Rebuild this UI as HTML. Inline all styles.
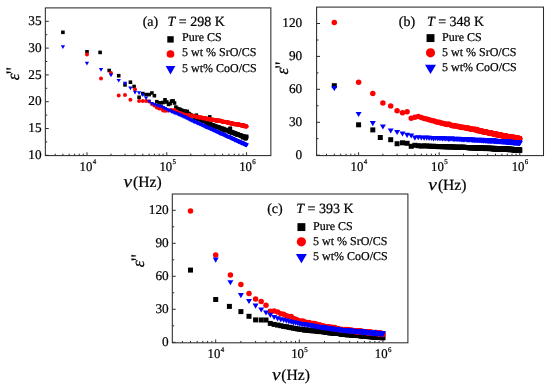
<!DOCTYPE html>
<html><head><meta charset="utf-8"><title>Dielectric loss</title>
<style>html,body{margin:0;padding:0;background:#fff}svg{display:block}text{font-family:"Liberation Serif",serif;fill:#000;stroke:#000;stroke-width:0.22px;text-rendering:geometricPrecision}</style>
</head><body>
<svg width="550" height="387" viewBox="0 0 550 387">
<rect width="550" height="387" fill="#fff"/>
<g fill="#000"><rect x="61.1" y="30.5" width="3.6" height="3.6"/><rect x="85.2" y="50.0" width="3.6" height="3.6"/><rect x="98.3" y="50.6" width="3.6" height="3.6"/><rect x="107.4" y="68.7" width="3.6" height="3.6"/><rect x="116.9" y="73.9" width="3.6" height="3.6"/><rect x="123.2" y="83.1" width="3.6" height="3.6"/><rect x="128.6" y="80.4" width="3.6" height="3.6"/><rect x="132.3" y="84.7" width="3.6" height="3.6"/><rect x="137.3" y="95.5" width="3.6" height="3.6"/><rect x="141.0" y="91.8" width="3.6" height="3.6"/><rect x="144.3" y="92.8" width="3.6" height="3.6"/><rect x="147.3" y="92.8" width="3.6" height="3.6"/><rect x="150.1" y="91.2" width="3.6" height="3.6"/><rect x="152.6" y="93.9" width="3.6" height="3.6"/><rect x="155.0" y="99.9" width="3.6" height="3.6"/><rect x="157.3" y="101.0" width="3.6" height="3.6"/><rect x="159.4" y="101.0" width="3.6" height="3.6"/><rect x="161.3" y="100.7" width="3.6" height="3.6"/><rect x="163.2" y="98.0" width="3.6" height="3.6"/><rect x="165.0" y="100.2" width="3.6" height="3.6"/><rect x="166.7" y="102.6" width="3.6" height="3.6"/><rect x="168.3" y="101.8" width="3.6" height="3.6"/><rect x="169.8" y="99.3" width="3.6" height="3.6"/><rect x="171.3" y="99.1" width="3.6" height="3.6"/><rect x="172.7" y="101.2" width="3.6" height="3.6"/><rect x="174.1" y="105.3" width="3.6" height="3.6"/><rect x="175.4" y="106.7" width="3.6" height="3.6"/><rect x="176.7" y="107.3" width="3.6" height="3.6"/><rect x="177.9" y="107.4" width="3.6" height="3.6"/><rect x="179.1" y="108.2" width="3.6" height="3.6"/><rect x="180.2" y="108.7" width="3.6" height="3.6"/><rect x="181.3" y="109.4" width="3.6" height="3.6"/><rect x="182.4" y="109.5" width="3.6" height="3.6"/><rect x="183.4" y="109.4" width="3.6" height="3.6"/><rect x="184.4" y="110.2" width="3.6" height="3.6"/><rect x="185.4" y="109.6" width="3.6" height="3.6"/><rect x="186.3" y="111.6" width="3.6" height="3.6"/><rect x="187.3" y="111.9" width="3.6" height="3.6"/><rect x="188.2" y="112.8" width="3.6" height="3.6"/><rect x="189.0" y="113.3" width="3.6" height="3.6"/><rect x="189.9" y="113.7" width="3.6" height="3.6"/><rect x="190.7" y="114.9" width="3.6" height="3.6"/><rect x="191.5" y="114.2" width="3.6" height="3.6"/><rect x="192.3" y="114.7" width="3.6" height="3.6"/><rect x="193.1" y="115.1" width="3.6" height="3.6"/><rect x="193.9" y="116.4" width="3.6" height="3.6"/><rect x="194.6" y="113.4" width="3.6" height="3.6"/><rect x="195.4" y="117.1" width="3.6" height="3.6"/><rect x="196.1" y="117.1" width="3.6" height="3.6"/><rect x="196.8" y="117.2" width="3.6" height="3.6"/><rect x="197.5" y="117.2" width="3.6" height="3.6"/><rect x="198.1" y="117.7" width="3.6" height="3.6"/><rect x="198.8" y="117.7" width="3.6" height="3.6"/><rect x="199.4" y="118.5" width="3.6" height="3.6"/><rect x="200.1" y="118.4" width="3.6" height="3.6"/><rect x="200.7" y="118.6" width="3.6" height="3.6"/><rect x="201.3" y="119.4" width="3.6" height="3.6"/><rect x="201.9" y="118.6" width="3.6" height="3.6"/><rect x="202.5" y="119.4" width="3.6" height="3.6"/><rect x="203.1" y="119.4" width="3.6" height="3.6"/><rect x="203.7" y="120.5" width="3.6" height="3.6"/><rect x="204.2" y="120.8" width="3.6" height="3.6"/><rect x="204.8" y="120.9" width="3.6" height="3.6"/><rect x="205.3" y="121.0" width="3.6" height="3.6"/><rect x="205.9" y="120.9" width="3.6" height="3.6"/><rect x="206.4" y="121.3" width="3.6" height="3.6"/><rect x="206.9" y="121.9" width="3.6" height="3.6"/><rect x="207.4" y="122.3" width="3.6" height="3.6"/><rect x="207.9" y="115.1" width="3.6" height="3.6"/><rect x="208.4" y="122.6" width="3.6" height="3.6"/><rect x="208.9" y="122.1" width="3.6" height="3.6"/><rect x="209.4" y="123.2" width="3.6" height="3.6"/><rect x="209.9" y="123.0" width="3.6" height="3.6"/><rect x="210.4" y="123.1" width="3.6" height="3.6"/><rect x="210.8" y="124.1" width="3.6" height="3.6"/><rect x="211.3" y="123.6" width="3.6" height="3.6"/><rect x="211.7" y="123.2" width="3.6" height="3.6"/><rect x="212.2" y="124.8" width="3.6" height="3.6"/><rect x="212.6" y="124.2" width="3.6" height="3.6"/><rect x="213.1" y="124.3" width="3.6" height="3.6"/><rect x="213.5" y="124.8" width="3.6" height="3.6"/><rect x="213.9" y="124.3" width="3.6" height="3.6"/><rect x="214.4" y="124.7" width="3.6" height="3.6"/><rect x="214.8" y="118.9" width="3.6" height="3.6"/><rect x="215.2" y="125.6" width="3.6" height="3.6"/><rect x="215.6" y="124.8" width="3.6" height="3.6"/><rect x="216.0" y="125.0" width="3.6" height="3.6"/><rect x="216.4" y="125.0" width="3.6" height="3.6"/><rect x="216.8" y="125.0" width="3.6" height="3.6"/><rect x="217.2" y="125.6" width="3.6" height="3.6"/><rect x="217.5" y="125.8" width="3.6" height="3.6"/><rect x="217.9" y="126.6" width="3.6" height="3.6"/><rect x="218.3" y="125.9" width="3.6" height="3.6"/><rect x="218.7" y="126.5" width="3.6" height="3.6"/><rect x="219.0" y="126.6" width="3.6" height="3.6"/><rect x="219.4" y="127.1" width="3.6" height="3.6"/><rect x="219.8" y="127.1" width="3.6" height="3.6"/><rect x="220.1" y="127.0" width="3.6" height="3.6"/><rect x="220.5" y="126.4" width="3.6" height="3.6"/><rect x="220.8" y="127.9" width="3.6" height="3.6"/><rect x="221.2" y="127.8" width="3.6" height="3.6"/><rect x="221.5" y="127.2" width="3.6" height="3.6"/><rect x="221.8" y="126.8" width="3.6" height="3.6"/><rect x="222.2" y="127.3" width="3.6" height="3.6"/><rect x="222.5" y="128.5" width="3.6" height="3.6"/><rect x="222.8" y="128.9" width="3.6" height="3.6"/><rect x="223.2" y="127.8" width="3.6" height="3.6"/><rect x="223.5" y="128.3" width="3.6" height="3.6"/><rect x="223.8" y="128.6" width="3.6" height="3.6"/><rect x="224.1" y="127.8" width="3.6" height="3.6"/><rect x="224.4" y="127.9" width="3.6" height="3.6"/><rect x="224.7" y="128.4" width="3.6" height="3.6"/><rect x="225.1" y="128.5" width="3.6" height="3.6"/><rect x="225.4" y="128.5" width="3.6" height="3.6"/><rect x="225.7" y="128.1" width="3.6" height="3.6"/><rect x="226.0" y="128.7" width="3.6" height="3.6"/><rect x="226.3" y="128.8" width="3.6" height="3.6"/><rect x="226.6" y="128.9" width="3.6" height="3.6"/><rect x="226.8" y="129.9" width="3.6" height="3.6"/><rect x="227.1" y="128.8" width="3.6" height="3.6"/><rect x="227.4" y="129.1" width="3.6" height="3.6"/><rect x="227.7" y="129.4" width="3.6" height="3.6"/><rect x="228.0" y="130.5" width="3.6" height="3.6"/><rect x="228.3" y="126.4" width="3.6" height="3.6"/><rect x="228.6" y="127.0" width="3.6" height="3.6"/><rect x="228.8" y="130.3" width="3.6" height="3.6"/><rect x="229.1" y="129.8" width="3.6" height="3.6"/><rect x="229.4" y="131.0" width="3.6" height="3.6"/><rect x="229.6" y="130.4" width="3.6" height="3.6"/><rect x="229.9" y="130.0" width="3.6" height="3.6"/><rect x="230.2" y="131.1" width="3.6" height="3.6"/><rect x="230.4" y="130.0" width="3.6" height="3.6"/><rect x="230.7" y="130.5" width="3.6" height="3.6"/><rect x="231.0" y="130.9" width="3.6" height="3.6"/><rect x="231.2" y="130.8" width="3.6" height="3.6"/><rect x="231.5" y="130.8" width="3.6" height="3.6"/><rect x="231.7" y="131.1" width="3.6" height="3.6"/><rect x="232.0" y="130.8" width="3.6" height="3.6"/><rect x="232.2" y="131.7" width="3.6" height="3.6"/><rect x="232.5" y="131.6" width="3.6" height="3.6"/><rect x="232.7" y="131.1" width="3.6" height="3.6"/><rect x="233.0" y="131.6" width="3.6" height="3.6"/><rect x="233.2" y="132.1" width="3.6" height="3.6"/><rect x="233.5" y="131.4" width="3.6" height="3.6"/><rect x="233.7" y="131.3" width="3.6" height="3.6"/><rect x="233.9" y="132.2" width="3.6" height="3.6"/><rect x="234.2" y="132.7" width="3.6" height="3.6"/><rect x="234.4" y="132.3" width="3.6" height="3.6"/><rect x="234.6" y="132.4" width="3.6" height="3.6"/><rect x="234.9" y="132.5" width="3.6" height="3.6"/><rect x="235.1" y="131.9" width="3.6" height="3.6"/><rect x="235.3" y="133.0" width="3.6" height="3.6"/><rect x="235.6" y="132.1" width="3.6" height="3.6"/><rect x="235.8" y="133.3" width="3.6" height="3.6"/><rect x="236.0" y="133.2" width="3.6" height="3.6"/><rect x="236.2" y="132.7" width="3.6" height="3.6"/><rect x="236.5" y="132.5" width="3.6" height="3.6"/><rect x="236.7" y="132.7" width="3.6" height="3.6"/><rect x="236.9" y="133.1" width="3.6" height="3.6"/><rect x="237.1" y="133.2" width="3.6" height="3.6"/><rect x="237.3" y="133.3" width="3.6" height="3.6"/><rect x="237.5" y="133.2" width="3.6" height="3.6"/><rect x="237.8" y="133.6" width="3.6" height="3.6"/><rect x="238.0" y="133.5" width="3.6" height="3.6"/><rect x="238.2" y="133.5" width="3.6" height="3.6"/><rect x="238.4" y="133.8" width="3.6" height="3.6"/><rect x="238.6" y="133.5" width="3.6" height="3.6"/><rect x="238.8" y="133.7" width="3.6" height="3.6"/><rect x="239.0" y="133.2" width="3.6" height="3.6"/><rect x="239.2" y="134.0" width="3.6" height="3.6"/><rect x="239.4" y="134.4" width="3.6" height="3.6"/><rect x="239.6" y="134.4" width="3.6" height="3.6"/><rect x="239.8" y="134.4" width="3.6" height="3.6"/><rect x="240.0" y="134.0" width="3.6" height="3.6"/><rect x="240.2" y="134.7" width="3.6" height="3.6"/><rect x="240.4" y="134.4" width="3.6" height="3.6"/><rect x="240.6" y="133.9" width="3.6" height="3.6"/><rect x="240.8" y="135.9" width="3.6" height="3.6"/><rect x="241.0" y="135.3" width="3.6" height="3.6"/><rect x="241.2" y="134.8" width="3.6" height="3.6"/><rect x="241.4" y="134.8" width="3.6" height="3.6"/><rect x="241.6" y="134.9" width="3.6" height="3.6"/><rect x="241.8" y="135.3" width="3.6" height="3.6"/><rect x="242.0" y="134.9" width="3.6" height="3.6"/><rect x="242.1" y="135.1" width="3.6" height="3.6"/><rect x="242.3" y="135.6" width="3.6" height="3.6"/><rect x="242.5" y="134.4" width="3.6" height="3.6"/><rect x="242.7" y="135.3" width="3.6" height="3.6"/><rect x="242.9" y="135.8" width="3.6" height="3.6"/><rect x="243.1" y="135.7" width="3.6" height="3.6"/><rect x="243.3" y="135.8" width="3.6" height="3.6"/><rect x="243.4" y="135.8" width="3.6" height="3.6"/><rect x="243.6" y="137.0" width="3.6" height="3.6"/><rect x="243.8" y="136.1" width="3.6" height="3.6"/><rect x="244.0" y="135.6" width="3.6" height="3.6"/><rect x="244.1" y="136.6" width="3.6" height="3.6"/><rect x="244.3" y="136.2" width="3.6" height="3.6"/><rect x="244.5" y="135.8" width="3.6" height="3.6"/><rect x="244.7" y="135.3" width="3.6" height="3.6"/><rect x="244.8" y="134.5" width="3.6" height="3.6"/></g>
<g fill="#f00"><circle cx="87.0" cy="54.5" r="1.98"/><circle cx="101.0" cy="78.4" r="1.98"/><circle cx="111.0" cy="73.0" r="1.98"/><circle cx="118.7" cy="95.5" r="1.98"/><circle cx="125.0" cy="94.9" r="1.98"/><circle cx="130.4" cy="99.8" r="1.98"/><circle cx="135.0" cy="89.2" r="1.98"/><circle cx="139.1" cy="100.9" r="1.98"/><circle cx="142.8" cy="101.1" r="1.98"/><circle cx="146.1" cy="101.1" r="1.98"/><circle cx="149.1" cy="101.4" r="1.98"/><circle cx="151.9" cy="103.9" r="1.98"/><circle cx="154.4" cy="105.5" r="1.98"/><circle cx="156.8" cy="107.4" r="1.98"/><circle cx="159.1" cy="108.5" r="1.98"/><circle cx="161.2" cy="108.5" r="1.98"/><circle cx="163.1" cy="110.4" r="1.98"/><circle cx="165.0" cy="110.7" r="1.98"/><circle cx="166.8" cy="110.4" r="1.98"/><circle cx="168.5" cy="110.4" r="1.98"/><circle cx="170.1" cy="110.2" r="1.98"/><circle cx="171.6" cy="110.1" r="1.98"/><circle cx="173.1" cy="110.9" r="1.98"/><circle cx="174.5" cy="110.1" r="1.98"/><circle cx="175.9" cy="111.4" r="1.98"/><circle cx="177.2" cy="111.7" r="1.98"/><circle cx="178.5" cy="112.8" r="1.98"/><circle cx="179.7" cy="113.0" r="1.98"/><circle cx="180.9" cy="113.2" r="1.98"/><circle cx="182.0" cy="114.0" r="1.98"/><circle cx="183.1" cy="114.3" r="1.98"/><circle cx="184.2" cy="114.6" r="1.98"/><circle cx="185.2" cy="115.2" r="1.98"/><circle cx="186.2" cy="115.4" r="1.98"/><circle cx="187.2" cy="115.1" r="1.98"/><circle cx="188.1" cy="115.3" r="1.98"/><circle cx="189.1" cy="115.7" r="1.98"/><circle cx="190.0" cy="115.2" r="1.98"/><circle cx="190.8" cy="116.1" r="1.98"/><circle cx="191.7" cy="115.8" r="1.98"/><circle cx="192.5" cy="116.1" r="1.98"/><circle cx="193.3" cy="116.1" r="1.98"/><circle cx="194.1" cy="116.1" r="1.98"/><circle cx="194.9" cy="116.3" r="1.98"/><circle cx="195.7" cy="116.4" r="1.98"/><circle cx="196.4" cy="117.0" r="1.98"/><circle cx="197.2" cy="117.2" r="1.98"/><circle cx="197.9" cy="116.8" r="1.98"/><circle cx="198.6" cy="117.3" r="1.98"/><circle cx="199.3" cy="117.5" r="1.98"/><circle cx="199.9" cy="117.7" r="1.98"/><circle cx="200.6" cy="117.3" r="1.98"/><circle cx="201.2" cy="117.5" r="1.98"/><circle cx="201.9" cy="117.5" r="1.98"/><circle cx="202.5" cy="118.1" r="1.98"/><circle cx="203.1" cy="118.0" r="1.98"/><circle cx="203.7" cy="118.4" r="1.98"/><circle cx="204.3" cy="118.1" r="1.98"/><circle cx="204.9" cy="118.1" r="1.98"/><circle cx="205.5" cy="118.7" r="1.98"/><circle cx="206.0" cy="118.3" r="1.98"/><circle cx="206.6" cy="118.5" r="1.98"/><circle cx="207.1" cy="118.9" r="1.98"/><circle cx="207.7" cy="119.4" r="1.98"/><circle cx="208.2" cy="118.8" r="1.98"/><circle cx="208.7" cy="119.2" r="1.98"/><circle cx="209.2" cy="119.4" r="1.98"/><circle cx="209.7" cy="119.3" r="1.98"/><circle cx="210.2" cy="119.4" r="1.98"/><circle cx="210.7" cy="119.3" r="1.98"/><circle cx="211.2" cy="119.9" r="1.98"/><circle cx="211.7" cy="119.5" r="1.98"/><circle cx="212.2" cy="119.5" r="1.98"/><circle cx="212.6" cy="119.6" r="1.98"/><circle cx="213.1" cy="120.0" r="1.98"/><circle cx="213.5" cy="120.2" r="1.98"/><circle cx="214.0" cy="119.8" r="1.98"/><circle cx="214.4" cy="120.1" r="1.98"/><circle cx="214.9" cy="120.1" r="1.98"/><circle cx="215.3" cy="119.9" r="1.98"/><circle cx="215.7" cy="120.3" r="1.98"/><circle cx="216.2" cy="120.8" r="1.98"/><circle cx="216.6" cy="120.4" r="1.98"/><circle cx="217.0" cy="120.7" r="1.98"/><circle cx="217.4" cy="120.2" r="1.98"/><circle cx="217.8" cy="120.4" r="1.98"/><circle cx="218.2" cy="120.7" r="1.98"/><circle cx="218.6" cy="120.6" r="1.98"/><circle cx="219.0" cy="120.5" r="1.98"/><circle cx="219.3" cy="120.8" r="1.98"/><circle cx="219.7" cy="120.6" r="1.98"/><circle cx="220.1" cy="121.0" r="1.98"/><circle cx="220.5" cy="120.8" r="1.98"/><circle cx="220.8" cy="120.8" r="1.98"/><circle cx="221.2" cy="120.8" r="1.98"/><circle cx="221.6" cy="121.4" r="1.98"/><circle cx="221.9" cy="121.1" r="1.98"/><circle cx="222.3" cy="121.8" r="1.98"/><circle cx="222.6" cy="121.7" r="1.98"/><circle cx="223.0" cy="122.0" r="1.98"/><circle cx="223.3" cy="121.4" r="1.98"/><circle cx="223.6" cy="122.0" r="1.98"/><circle cx="224.0" cy="121.8" r="1.98"/><circle cx="224.3" cy="121.9" r="1.98"/><circle cx="224.6" cy="121.9" r="1.98"/><circle cx="225.0" cy="122.1" r="1.98"/><circle cx="225.3" cy="122.0" r="1.98"/><circle cx="225.6" cy="121.7" r="1.98"/><circle cx="225.9" cy="122.1" r="1.98"/><circle cx="226.2" cy="122.1" r="1.98"/><circle cx="226.5" cy="122.1" r="1.98"/><circle cx="226.9" cy="122.4" r="1.98"/><circle cx="227.2" cy="122.7" r="1.98"/><circle cx="227.5" cy="122.6" r="1.98"/><circle cx="227.8" cy="122.3" r="1.98"/><circle cx="228.1" cy="123.0" r="1.98"/><circle cx="228.4" cy="122.8" r="1.98"/><circle cx="228.6" cy="122.5" r="1.98"/><circle cx="228.9" cy="122.6" r="1.98"/><circle cx="229.2" cy="122.8" r="1.98"/><circle cx="229.5" cy="122.7" r="1.98"/><circle cx="229.8" cy="122.9" r="1.98"/><circle cx="230.1" cy="123.3" r="1.98"/><circle cx="230.4" cy="123.4" r="1.98"/><circle cx="230.6" cy="123.3" r="1.98"/><circle cx="230.9" cy="123.0" r="1.98"/><circle cx="231.2" cy="123.4" r="1.98"/><circle cx="231.4" cy="123.5" r="1.98"/><circle cx="231.7" cy="123.5" r="1.98"/><circle cx="232.0" cy="123.7" r="1.98"/><circle cx="232.2" cy="123.5" r="1.98"/><circle cx="232.5" cy="123.8" r="1.98"/><circle cx="232.8" cy="123.5" r="1.98"/><circle cx="233.0" cy="124.1" r="1.98"/><circle cx="233.3" cy="123.6" r="1.98"/><circle cx="233.5" cy="123.8" r="1.98"/><circle cx="233.8" cy="124.2" r="1.98"/><circle cx="234.0" cy="123.7" r="1.98"/><circle cx="234.3" cy="123.9" r="1.98"/><circle cx="234.5" cy="124.4" r="1.98"/><circle cx="234.8" cy="124.1" r="1.98"/><circle cx="235.0" cy="123.9" r="1.98"/><circle cx="235.3" cy="124.2" r="1.98"/><circle cx="235.5" cy="123.9" r="1.98"/><circle cx="235.7" cy="124.0" r="1.98"/><circle cx="236.0" cy="124.1" r="1.98"/><circle cx="236.2" cy="124.2" r="1.98"/><circle cx="236.4" cy="124.0" r="1.98"/><circle cx="236.7" cy="124.2" r="1.98"/><circle cx="236.9" cy="124.3" r="1.98"/><circle cx="237.1" cy="124.9" r="1.98"/><circle cx="237.4" cy="124.3" r="1.98"/><circle cx="237.6" cy="124.2" r="1.98"/><circle cx="237.8" cy="124.6" r="1.98"/><circle cx="238.0" cy="124.7" r="1.98"/><circle cx="238.3" cy="124.2" r="1.98"/><circle cx="238.5" cy="125.1" r="1.98"/><circle cx="238.7" cy="124.6" r="1.98"/><circle cx="238.9" cy="124.3" r="1.98"/><circle cx="239.1" cy="125.0" r="1.98"/><circle cx="239.3" cy="124.7" r="1.98"/><circle cx="239.6" cy="124.5" r="1.98"/><circle cx="239.8" cy="125.0" r="1.98"/><circle cx="240.0" cy="124.9" r="1.98"/><circle cx="240.2" cy="124.9" r="1.98"/><circle cx="240.4" cy="125.3" r="1.98"/><circle cx="240.6" cy="125.2" r="1.98"/><circle cx="240.8" cy="125.1" r="1.98"/><circle cx="241.0" cy="125.0" r="1.98"/><circle cx="241.2" cy="125.3" r="1.98"/><circle cx="241.4" cy="125.3" r="1.98"/><circle cx="241.6" cy="125.6" r="1.98"/><circle cx="241.8" cy="125.5" r="1.98"/><circle cx="242.0" cy="125.2" r="1.98"/><circle cx="242.2" cy="125.4" r="1.98"/><circle cx="242.4" cy="125.7" r="1.98"/><circle cx="242.6" cy="125.7" r="1.98"/><circle cx="242.8" cy="125.0" r="1.98"/><circle cx="243.0" cy="125.4" r="1.98"/><circle cx="243.2" cy="125.5" r="1.98"/><circle cx="243.4" cy="126.3" r="1.98"/><circle cx="243.6" cy="125.6" r="1.98"/><circle cx="243.8" cy="125.7" r="1.98"/><circle cx="243.9" cy="125.4" r="1.98"/><circle cx="244.1" cy="125.7" r="1.98"/><circle cx="244.3" cy="125.9" r="1.98"/><circle cx="244.5" cy="125.8" r="1.98"/><circle cx="244.7" cy="126.4" r="1.98"/><circle cx="244.9" cy="125.8" r="1.98"/><circle cx="245.1" cy="126.0" r="1.98"/><circle cx="245.2" cy="126.2" r="1.98"/><circle cx="245.4" cy="125.8" r="1.98"/><circle cx="245.6" cy="125.7" r="1.98"/><circle cx="245.8" cy="126.5" r="1.98"/><circle cx="245.9" cy="126.3" r="1.98"/><circle cx="246.1" cy="126.2" r="1.98"/><circle cx="246.3" cy="126.2" r="1.98"/><circle cx="246.5" cy="126.4" r="1.98"/><circle cx="246.6" cy="126.6" r="1.98"/></g>
<g fill="#00f"><path d="M60.8 45.3h4.3L62.9 49.0z"/><path d="M84.8 61.7h4.3L87.0 65.4z"/><path d="M98.9 68.1h4.3L101.0 71.7z"/><path d="M108.8 73.5h4.3L111.0 77.2z"/><path d="M116.6 79.0h4.3L118.7 82.6z"/><path d="M122.9 81.8h4.3L125.0 85.5z"/><path d="M128.2 86.5h4.3L130.4 90.2z"/><path d="M132.9 90.8h4.3L135.0 94.4z"/><path d="M136.9 91.3h4.3L139.1 95.0z"/><path d="M140.6 93.3h4.3L142.8 97.0z"/><path d="M143.9 96.4h4.3L146.1 100.1z"/><path d="M146.9 99.7h4.3L149.1 103.4z"/><path d="M149.7 102.0h4.3L151.9 105.7z"/><path d="M152.3 103.1h4.3L154.4 106.8z"/><path d="M154.7 104.1h4.3L156.8 107.8z"/><path d="M156.9 104.5h4.3L159.1 108.2z"/><path d="M159.0 104.9h4.3L161.2 108.6z"/><path d="M161.0 106.1h4.3L163.1 109.8z"/><path d="M162.9 107.0h4.3L165.0 110.7z"/><path d="M164.6 108.0h4.3L166.8 111.6z"/><path d="M166.3 108.8h4.3L168.5 112.5z"/><path d="M167.9 109.3h4.3L170.1 113.0z"/><path d="M169.5 110.0h4.3L171.6 113.7z"/><path d="M171.0 110.7h4.3L173.1 114.4z"/><path d="M172.4 111.3h4.3L174.5 114.9z"/><path d="M173.7 111.7h4.3L175.9 115.4z"/><path d="M175.0 112.2h4.3L177.2 115.9z"/><path d="M176.3 112.7h4.3L178.5 116.4z"/><path d="M177.5 113.3h4.3L179.7 117.0z"/><path d="M178.7 113.8h4.3L180.9 117.5z"/><path d="M179.8 114.4h4.3L182.0 118.1z"/><path d="M180.9 115.1h4.3L183.1 118.8z"/><path d="M182.0 115.3h4.3L184.2 119.0z"/><path d="M183.0 115.7h4.3L185.2 119.4z"/><path d="M184.0 116.3h4.3L186.2 119.9z"/><path d="M185.0 116.8h4.3L187.2 120.5z"/><path d="M186.0 117.2h4.3L188.1 120.8z"/><path d="M186.9 117.8h4.3L189.1 121.5z"/><path d="M187.8 118.4h4.3L190.0 122.0z"/><path d="M188.7 118.5h4.3L190.8 122.1z"/><path d="M189.5 119.0h4.3L191.7 122.7z"/><path d="M190.4 119.1h4.3L192.5 122.8z"/><path d="M191.2 119.8h4.3L193.3 123.5z"/><path d="M192.0 120.4h4.3L194.1 124.1z"/><path d="M192.8 120.5h4.3L194.9 124.2z"/><path d="M193.5 120.4h4.3L195.7 124.1z"/><path d="M194.3 121.1h4.3L196.4 124.8z"/><path d="M195.0 121.6h4.3L197.2 125.3z"/><path d="M195.7 121.8h4.3L197.9 125.5z"/><path d="M196.4 121.9h4.3L198.6 125.6z"/><path d="M197.1 122.3h4.3L199.3 125.9z"/><path d="M197.8 122.6h4.3L199.9 126.3z"/><path d="M198.4 122.7h4.3L200.6 126.4z"/><path d="M199.1 123.1h4.3L201.2 126.8z"/><path d="M199.7 123.6h4.3L201.9 127.2z"/><path d="M200.3 123.7h4.3L202.5 127.4z"/><path d="M201.0 123.9h4.3L203.1 127.5z"/><path d="M201.6 124.2h4.3L203.7 127.9z"/><path d="M202.2 124.5h4.3L204.3 128.2z"/><path d="M202.7 125.1h4.3L204.9 128.8z"/><path d="M203.3 125.2h4.3L205.5 128.9z"/><path d="M203.9 125.3h4.3L206.0 129.0z"/><path d="M204.4 125.7h4.3L206.6 129.4z"/><path d="M205.0 125.7h4.3L207.1 129.4z"/><path d="M205.5 126.0h4.3L207.7 129.7z"/><path d="M206.0 126.2h4.3L208.2 129.9z"/><path d="M206.6 126.6h4.3L208.7 130.3z"/><path d="M207.1 126.4h4.3L209.2 130.1z"/><path d="M207.6 126.9h4.3L209.7 130.5z"/><path d="M208.1 127.3h4.3L210.2 131.0z"/><path d="M208.6 127.5h4.3L210.7 131.2z"/><path d="M209.1 127.3h4.3L211.2 131.0z"/><path d="M209.5 128.0h4.3L211.7 131.6z"/><path d="M210.0 128.0h4.3L212.2 131.7z"/><path d="M210.5 128.2h4.3L212.6 131.8z"/><path d="M210.9 128.5h4.3L213.1 132.2z"/><path d="M211.4 128.9h4.3L213.5 132.6z"/><path d="M211.8 128.9h4.3L214.0 132.6z"/><path d="M212.3 129.1h4.3L214.4 132.7z"/><path d="M212.7 129.1h4.3L214.9 132.8z"/><path d="M213.1 129.4h4.3L215.3 133.1z"/><path d="M213.6 129.7h4.3L215.7 133.4z"/><path d="M214.0 129.8h4.3L216.2 133.4z"/><path d="M214.4 130.0h4.3L216.6 133.7z"/><path d="M214.8 130.2h4.3L217.0 133.9z"/><path d="M215.2 130.4h4.3L217.4 134.1z"/><path d="M215.6 130.7h4.3L217.8 134.3z"/><path d="M216.0 130.7h4.3L218.2 134.3z"/><path d="M216.4 131.1h4.3L218.6 134.8z"/><path d="M216.8 131.2h4.3L219.0 134.9z"/><path d="M217.2 131.3h4.3L219.3 135.0z"/><path d="M217.6 131.7h4.3L219.7 135.4z"/><path d="M217.9 131.7h4.3L220.1 135.4z"/><path d="M218.3 132.1h4.3L220.5 135.8z"/><path d="M218.7 132.1h4.3L220.8 135.7z"/><path d="M219.0 132.0h4.3L221.2 135.7z"/><path d="M219.4 132.2h4.3L221.6 135.9z"/><path d="M219.8 132.4h4.3L221.9 136.1z"/><path d="M220.1 132.6h4.3L222.3 136.3z"/><path d="M220.5 133.0h4.3L222.6 136.6z"/><path d="M220.8 132.6h4.3L223.0 136.3z"/><path d="M221.1 133.0h4.3L223.3 136.6z"/><path d="M221.5 133.0h4.3L223.6 136.7z"/><path d="M221.8 133.5h4.3L224.0 137.2z"/><path d="M222.1 133.5h4.3L224.3 137.2z"/><path d="M222.5 133.9h4.3L224.6 137.6z"/><path d="M222.8 133.7h4.3L225.0 137.3z"/><path d="M223.1 133.8h4.3L225.3 137.4z"/><path d="M223.4 134.4h4.3L225.6 138.0z"/><path d="M223.8 134.2h4.3L225.9 137.9z"/><path d="M224.1 134.2h4.3L226.2 137.9z"/><path d="M224.4 134.8h4.3L226.5 138.4z"/><path d="M224.7 134.9h4.3L226.9 138.6z"/><path d="M225.0 134.9h4.3L227.2 138.6z"/><path d="M225.3 135.0h4.3L227.5 138.7z"/><path d="M225.6 135.2h4.3L227.8 138.9z"/><path d="M225.9 135.1h4.3L228.1 138.8z"/><path d="M226.2 135.2h4.3L228.4 138.9z"/><path d="M226.5 135.3h4.3L228.6 139.0z"/><path d="M226.8 135.4h4.3L228.9 139.1z"/><path d="M227.1 135.4h4.3L229.2 139.1z"/><path d="M227.3 135.6h4.3L229.5 139.3z"/><path d="M227.6 136.1h4.3L229.8 139.8z"/><path d="M227.9 136.1h4.3L230.1 139.8z"/><path d="M228.2 136.4h4.3L230.4 140.0z"/><path d="M228.5 136.5h4.3L230.6 140.2z"/><path d="M228.7 136.5h4.3L230.9 140.1z"/><path d="M229.0 136.6h4.3L231.2 140.2z"/><path d="M229.3 136.6h4.3L231.4 140.3z"/><path d="M229.6 137.1h4.3L231.7 140.8z"/><path d="M229.8 137.1h4.3L232.0 140.8z"/><path d="M230.1 137.1h4.3L232.2 140.7z"/><path d="M230.3 137.2h4.3L232.5 140.9z"/><path d="M230.6 137.4h4.3L232.8 141.0z"/><path d="M230.9 137.4h4.3L233.0 141.1z"/><path d="M231.1 137.7h4.3L233.3 141.3z"/><path d="M231.4 137.6h4.3L233.5 141.2z"/><path d="M231.6 137.7h4.3L233.8 141.4z"/><path d="M231.9 137.9h4.3L234.0 141.6z"/><path d="M232.1 138.1h4.3L234.3 141.8z"/><path d="M232.4 138.2h4.3L234.5 141.8z"/><path d="M232.6 138.7h4.3L234.8 142.4z"/><path d="M232.9 138.5h4.3L235.0 142.2z"/><path d="M233.1 138.5h4.3L235.3 142.1z"/><path d="M233.3 138.8h4.3L235.5 142.5z"/><path d="M233.6 138.7h4.3L235.7 142.3z"/><path d="M233.8 138.8h4.3L236.0 142.4z"/><path d="M234.0 139.1h4.3L236.2 142.8z"/><path d="M234.3 139.1h4.3L236.4 142.7z"/><path d="M234.5 139.2h4.3L236.7 142.8z"/><path d="M234.7 139.2h4.3L236.9 142.8z"/><path d="M235.0 139.2h4.3L237.1 142.9z"/><path d="M235.2 139.4h4.3L237.4 143.1z"/><path d="M235.4 139.7h4.3L237.6 143.4z"/><path d="M235.7 139.7h4.3L237.8 143.3z"/><path d="M235.9 139.8h4.3L238.0 143.4z"/><path d="M236.1 139.7h4.3L238.3 143.4z"/><path d="M236.3 139.9h4.3L238.5 143.6z"/><path d="M236.5 140.2h4.3L238.7 143.9z"/><path d="M236.8 140.4h4.3L238.9 144.1z"/><path d="M237.0 140.3h4.3L239.1 144.0z"/><path d="M237.2 140.5h4.3L239.3 144.2z"/><path d="M237.4 140.6h4.3L239.6 144.3z"/><path d="M237.6 140.6h4.3L239.8 144.2z"/><path d="M237.8 140.7h4.3L240.0 144.4z"/><path d="M238.0 140.7h4.3L240.2 144.4z"/><path d="M238.2 140.8h4.3L240.4 144.4z"/><path d="M238.4 141.0h4.3L240.6 144.7z"/><path d="M238.6 140.7h4.3L240.8 144.3z"/><path d="M238.9 141.2h4.3L241.0 144.9z"/><path d="M239.1 141.1h4.3L241.2 144.7z"/><path d="M239.3 141.3h4.3L241.4 145.0z"/><path d="M239.5 141.2h4.3L241.6 144.9z"/><path d="M239.7 141.9h4.3L241.8 145.6z"/><path d="M239.9 141.7h4.3L242.0 145.4z"/><path d="M240.1 141.7h4.3L242.2 145.3z"/><path d="M240.3 141.7h4.3L242.4 145.4z"/><path d="M240.4 141.5h4.3L242.6 145.2z"/><path d="M240.6 141.9h4.3L242.8 145.6z"/><path d="M240.8 141.8h4.3L243.0 145.5z"/><path d="M241.0 142.0h4.3L243.2 145.7z"/><path d="M241.2 142.1h4.3L243.4 145.8z"/><path d="M241.4 142.2h4.3L243.6 145.9z"/><path d="M241.6 142.4h4.3L243.8 146.1z"/><path d="M241.8 142.4h4.3L243.9 146.1z"/><path d="M242.0 142.8h4.3L244.1 146.4z"/><path d="M242.2 142.5h4.3L244.3 146.1z"/><path d="M242.3 142.9h4.3L244.5 146.6z"/><path d="M242.5 142.8h4.3L244.7 146.5z"/><path d="M242.7 142.6h4.3L244.9 146.3z"/><path d="M242.9 143.0h4.3L245.1 146.7z"/><path d="M243.1 143.1h4.3L245.2 146.8z"/><path d="M243.3 143.0h4.3L245.4 146.7z"/><path d="M243.4 143.3h4.3L245.6 146.9z"/><path d="M243.6 143.5h4.3L245.8 147.1z"/><path d="M243.8 143.4h4.3L245.9 147.1z"/><path d="M244.0 143.4h4.3L246.1 147.1z"/><path d="M244.1 143.5h4.3L246.3 147.1z"/><path d="M244.3 143.8h4.3L246.5 147.5z"/><path d="M244.5 143.5h4.3L246.6 147.1z"/></g>
<rect x="45.35" y="7.9" width="225.5" height="147.7" fill="none" stroke="#2a2a2a" stroke-width="1.05"/>
<path d="M45.35 155.3h3.4M45.35 128.5h3.4M45.35 101.7h3.4M45.35 74.9h3.4M45.35 48.1h3.4M45.35 21.3h3.4M45.35 141.9h1.9M45.35 115.1h1.9M45.35 88.3h1.9M45.35 61.5h1.9M45.35 34.7h1.9M55.2 155.6v-1.9M62.9 155.6v-1.9M69.2 155.6v-1.9M74.6 155.6v-1.9M79.2 155.6v-1.9M83.3 155.6v-1.9M87.0 155.6v-3.3M111.0 155.6v-1.9M125.0 155.6v-1.9M135.0 155.6v-1.9M142.8 155.6v-1.9M149.1 155.6v-1.9M154.4 155.6v-1.9M159.1 155.6v-1.9M163.1 155.6v-1.9M166.8 155.6v-3.3M190.8 155.6v-1.9M204.9 155.6v-1.9M214.9 155.6v-1.9M222.6 155.6v-1.9M228.9 155.6v-1.9M234.3 155.6v-1.9M238.9 155.6v-1.9M243.0 155.6v-1.9M246.6 155.6v-3.3" stroke="#2a2a2a" stroke-width="1" fill="none"/>
<text transform="translate(41.6,159.0) scale(1,1)" text-anchor="end" font-size="13.3">10</text>
<text transform="translate(41.6,132.2) scale(1,1)" text-anchor="end" font-size="13.3">15</text>
<text transform="translate(41.6,105.4) scale(1,1)" text-anchor="end" font-size="13.3">20</text>
<text transform="translate(41.6,78.6) scale(1,1)" text-anchor="end" font-size="13.3">25</text>
<text transform="translate(41.6,51.8) scale(1,1)" text-anchor="end" font-size="13.3">30</text>
<text transform="translate(41.6,25.0) scale(1,1)" text-anchor="end" font-size="13.3">35</text>
<text transform="translate(87.9,171.1) scale(0.96,1)" text-anchor="middle" font-size="13.3">10<tspan dx="0.4" dy="-6.9" font-size="7.2">4</tspan></text>
<text transform="translate(167.7,171.1) scale(0.96,1)" text-anchor="middle" font-size="13.3">10<tspan dx="0.4" dy="-6.9" font-size="7.2">5</tspan></text>
<text transform="translate(247.5,171.1) scale(0.96,1)" text-anchor="middle" font-size="13.3">10<tspan dx="0.4" dy="-6.9" font-size="7.2">6</tspan></text>
<g fill="#000"><rect x="331.8" y="83.2" width="5.0" height="5.0"/><rect x="356.1" y="122.3" width="5.0" height="5.0"/><rect x="370.3" y="127.4" width="5.0" height="5.0"/><rect x="377.8" y="135.0" width="5.0" height="5.0"/><rect x="388.2" y="137.2" width="5.0" height="5.0"/><rect x="394.6" y="141.2" width="5.0" height="5.0"/><rect x="400.0" y="140.3" width="5.0" height="5.0"/><rect x="404.6" y="140.8" width="5.0" height="5.0"/><rect x="408.7" y="143.8" width="5.0" height="5.0"/><rect x="412.4" y="142.8" width="5.0" height="5.0"/><rect x="415.8" y="143.2" width="5.0" height="5.0"/><rect x="418.8" y="143.6" width="5.0" height="5.0"/><rect x="421.6" y="143.3" width="5.0" height="5.0"/><rect x="424.2" y="143.5" width="5.0" height="5.0"/><rect x="426.6" y="143.6" width="5.0" height="5.0"/><rect x="428.9" y="143.8" width="5.0" height="5.0"/><rect x="431.0" y="143.8" width="5.0" height="5.0"/><rect x="433.0" y="143.9" width="5.0" height="5.0"/><rect x="434.9" y="144.1" width="5.0" height="5.0"/><rect x="436.7" y="144.1" width="5.0" height="5.0"/><rect x="438.4" y="144.1" width="5.0" height="5.0"/><rect x="440.0" y="144.2" width="5.0" height="5.0"/><rect x="441.6" y="144.3" width="5.0" height="5.0"/><rect x="443.1" y="144.1" width="5.0" height="5.0"/><rect x="444.5" y="144.5" width="5.0" height="5.0"/><rect x="445.9" y="144.2" width="5.0" height="5.0"/><rect x="447.2" y="144.5" width="5.0" height="5.0"/><rect x="448.5" y="144.4" width="5.0" height="5.0"/><rect x="449.7" y="144.3" width="5.0" height="5.0"/><rect x="450.9" y="144.5" width="5.0" height="5.0"/><rect x="452.0" y="144.7" width="5.0" height="5.0"/><rect x="453.2" y="144.6" width="5.0" height="5.0"/><rect x="454.2" y="144.6" width="5.0" height="5.0"/><rect x="455.3" y="144.9" width="5.0" height="5.0"/><rect x="456.3" y="144.8" width="5.0" height="5.0"/><rect x="457.3" y="144.7" width="5.0" height="5.0"/><rect x="458.2" y="144.8" width="5.0" height="5.0"/><rect x="459.2" y="144.8" width="5.0" height="5.0"/><rect x="460.1" y="144.7" width="5.0" height="5.0"/><rect x="461.0" y="144.8" width="5.0" height="5.0"/><rect x="461.8" y="144.8" width="5.0" height="5.0"/><rect x="462.7" y="144.9" width="5.0" height="5.0"/><rect x="463.5" y="145.0" width="5.0" height="5.0"/><rect x="464.3" y="145.0" width="5.0" height="5.0"/><rect x="465.1" y="145.1" width="5.0" height="5.0"/><rect x="465.9" y="145.1" width="5.0" height="5.0"/><rect x="466.6" y="145.1" width="5.0" height="5.0"/><rect x="467.3" y="145.4" width="5.0" height="5.0"/><rect x="468.1" y="145.2" width="5.0" height="5.0"/><rect x="468.8" y="145.2" width="5.0" height="5.0"/><rect x="469.5" y="145.4" width="5.0" height="5.0"/><rect x="470.1" y="145.3" width="5.0" height="5.0"/><rect x="470.8" y="145.2" width="5.0" height="5.0"/><rect x="471.5" y="145.3" width="5.0" height="5.0"/><rect x="472.1" y="145.0" width="5.0" height="5.0"/><rect x="472.7" y="145.7" width="5.0" height="5.0"/><rect x="473.4" y="145.4" width="5.0" height="5.0"/><rect x="474.0" y="145.7" width="5.0" height="5.0"/><rect x="474.6" y="145.3" width="5.0" height="5.0"/><rect x="475.2" y="145.1" width="5.0" height="5.0"/><rect x="475.7" y="145.8" width="5.0" height="5.0"/><rect x="476.3" y="145.5" width="5.0" height="5.0"/><rect x="476.9" y="145.5" width="5.0" height="5.0"/><rect x="477.4" y="145.6" width="5.0" height="5.0"/><rect x="478.0" y="145.5" width="5.0" height="5.0"/><rect x="478.5" y="145.9" width="5.0" height="5.0"/><rect x="479.0" y="145.5" width="5.0" height="5.0"/><rect x="479.5" y="145.6" width="5.0" height="5.0"/><rect x="480.0" y="145.7" width="5.0" height="5.0"/><rect x="480.6" y="145.8" width="5.0" height="5.0"/><rect x="481.0" y="145.6" width="5.0" height="5.0"/><rect x="481.5" y="145.8" width="5.0" height="5.0"/><rect x="482.0" y="145.7" width="5.0" height="5.0"/><rect x="482.5" y="145.8" width="5.0" height="5.0"/><rect x="483.0" y="146.1" width="5.0" height="5.0"/><rect x="483.4" y="145.8" width="5.0" height="5.0"/><rect x="483.9" y="145.8" width="5.0" height="5.0"/><rect x="484.3" y="145.7" width="5.0" height="5.0"/><rect x="484.8" y="146.0" width="5.0" height="5.0"/><rect x="485.2" y="145.9" width="5.0" height="5.0"/><rect x="485.7" y="145.8" width="5.0" height="5.0"/><rect x="486.1" y="145.9" width="5.0" height="5.0"/><rect x="486.5" y="145.7" width="5.0" height="5.0"/><rect x="486.9" y="145.7" width="5.0" height="5.0"/><rect x="487.3" y="146.1" width="5.0" height="5.0"/><rect x="487.8" y="146.2" width="5.0" height="5.0"/><rect x="488.2" y="145.9" width="5.0" height="5.0"/><rect x="488.6" y="145.8" width="5.0" height="5.0"/><rect x="489.0" y="145.9" width="5.0" height="5.0"/><rect x="489.3" y="145.9" width="5.0" height="5.0"/><rect x="489.7" y="146.1" width="5.0" height="5.0"/><rect x="490.1" y="146.2" width="5.0" height="5.0"/><rect x="490.5" y="146.0" width="5.0" height="5.0"/><rect x="490.9" y="146.2" width="5.0" height="5.0"/><rect x="491.2" y="146.4" width="5.0" height="5.0"/><rect x="491.6" y="146.3" width="5.0" height="5.0"/><rect x="492.0" y="145.8" width="5.0" height="5.0"/><rect x="492.3" y="145.9" width="5.0" height="5.0"/><rect x="492.7" y="146.3" width="5.0" height="5.0"/><rect x="493.0" y="146.3" width="5.0" height="5.0"/><rect x="493.4" y="146.2" width="5.0" height="5.0"/><rect x="493.7" y="146.3" width="5.0" height="5.0"/><rect x="494.1" y="146.1" width="5.0" height="5.0"/><rect x="494.4" y="146.3" width="5.0" height="5.0"/><rect x="494.7" y="146.4" width="5.0" height="5.0"/><rect x="495.1" y="146.1" width="5.0" height="5.0"/><rect x="495.4" y="146.4" width="5.0" height="5.0"/><rect x="495.7" y="146.3" width="5.0" height="5.0"/><rect x="496.1" y="146.4" width="5.0" height="5.0"/><rect x="496.4" y="146.4" width="5.0" height="5.0"/><rect x="496.7" y="146.3" width="5.0" height="5.0"/><rect x="497.0" y="146.5" width="5.0" height="5.0"/><rect x="497.3" y="146.7" width="5.0" height="5.0"/><rect x="497.6" y="146.7" width="5.0" height="5.0"/><rect x="497.9" y="146.6" width="5.0" height="5.0"/><rect x="498.2" y="146.6" width="5.0" height="5.0"/><rect x="498.5" y="146.5" width="5.0" height="5.0"/><rect x="498.8" y="146.5" width="5.0" height="5.0"/><rect x="499.1" y="146.4" width="5.0" height="5.0"/><rect x="499.4" y="146.5" width="5.0" height="5.0"/><rect x="499.7" y="146.7" width="5.0" height="5.0"/><rect x="500.0" y="146.7" width="5.0" height="5.0"/><rect x="500.3" y="146.9" width="5.0" height="5.0"/><rect x="500.6" y="146.6" width="5.0" height="5.0"/><rect x="500.8" y="146.5" width="5.0" height="5.0"/><rect x="501.1" y="146.5" width="5.0" height="5.0"/><rect x="501.4" y="146.7" width="5.0" height="5.0"/><rect x="501.7" y="146.7" width="5.0" height="5.0"/><rect x="502.0" y="146.5" width="5.0" height="5.0"/><rect x="502.2" y="146.7" width="5.0" height="5.0"/><rect x="502.5" y="146.6" width="5.0" height="5.0"/><rect x="502.8" y="146.6" width="5.0" height="5.0"/><rect x="503.0" y="146.7" width="5.0" height="5.0"/><rect x="503.3" y="146.6" width="5.0" height="5.0"/><rect x="503.5" y="146.8" width="5.0" height="5.0"/><rect x="503.8" y="146.8" width="5.0" height="5.0"/><rect x="504.1" y="146.9" width="5.0" height="5.0"/><rect x="504.3" y="146.9" width="5.0" height="5.0"/><rect x="504.6" y="146.6" width="5.0" height="5.0"/><rect x="504.8" y="146.6" width="5.0" height="5.0"/><rect x="505.1" y="146.8" width="5.0" height="5.0"/><rect x="505.3" y="146.8" width="5.0" height="5.0"/><rect x="505.6" y="146.7" width="5.0" height="5.0"/><rect x="505.8" y="146.8" width="5.0" height="5.0"/><rect x="506.0" y="146.7" width="5.0" height="5.0"/><rect x="506.3" y="147.1" width="5.0" height="5.0"/><rect x="506.5" y="147.0" width="5.0" height="5.0"/><rect x="506.8" y="146.9" width="5.0" height="5.0"/><rect x="507.0" y="146.7" width="5.0" height="5.0"/><rect x="507.2" y="146.9" width="5.0" height="5.0"/><rect x="507.5" y="147.1" width="5.0" height="5.0"/><rect x="507.7" y="147.0" width="5.0" height="5.0"/><rect x="507.9" y="147.1" width="5.0" height="5.0"/><rect x="508.2" y="147.1" width="5.0" height="5.0"/><rect x="508.4" y="146.8" width="5.0" height="5.0"/><rect x="508.6" y="147.1" width="5.0" height="5.0"/><rect x="508.8" y="147.0" width="5.0" height="5.0"/><rect x="509.0" y="146.7" width="5.0" height="5.0"/><rect x="509.3" y="146.9" width="5.0" height="5.0"/><rect x="509.5" y="147.0" width="5.0" height="5.0"/><rect x="509.7" y="147.2" width="5.0" height="5.0"/><rect x="509.9" y="147.0" width="5.0" height="5.0"/><rect x="510.1" y="146.9" width="5.0" height="5.0"/><rect x="510.4" y="147.0" width="5.0" height="5.0"/><rect x="510.6" y="147.0" width="5.0" height="5.0"/><rect x="510.8" y="147.1" width="5.0" height="5.0"/><rect x="511.0" y="147.1" width="5.0" height="5.0"/><rect x="511.2" y="147.2" width="5.0" height="5.0"/><rect x="511.4" y="147.1" width="5.0" height="5.0"/><rect x="511.6" y="147.0" width="5.0" height="5.0"/><rect x="511.8" y="147.4" width="5.0" height="5.0"/><rect x="512.0" y="147.2" width="5.0" height="5.0"/><rect x="512.2" y="147.2" width="5.0" height="5.0"/><rect x="512.4" y="147.3" width="5.0" height="5.0"/><rect x="512.6" y="147.3" width="5.0" height="5.0"/><rect x="512.8" y="147.1" width="5.0" height="5.0"/><rect x="513.0" y="147.0" width="5.0" height="5.0"/><rect x="513.2" y="147.2" width="5.0" height="5.0"/><rect x="513.4" y="147.2" width="5.0" height="5.0"/><rect x="513.6" y="147.5" width="5.0" height="5.0"/><rect x="513.8" y="147.0" width="5.0" height="5.0"/><rect x="514.0" y="147.3" width="5.0" height="5.0"/><rect x="514.2" y="147.3" width="5.0" height="5.0"/><rect x="514.4" y="147.5" width="5.0" height="5.0"/><rect x="514.6" y="147.4" width="5.0" height="5.0"/><rect x="514.8" y="147.5" width="5.0" height="5.0"/><rect x="514.9" y="147.4" width="5.0" height="5.0"/><rect x="515.1" y="147.3" width="5.0" height="5.0"/><rect x="515.3" y="147.4" width="5.0" height="5.0"/><rect x="515.5" y="147.4" width="5.0" height="5.0"/><rect x="515.7" y="147.5" width="5.0" height="5.0"/><rect x="515.9" y="147.2" width="5.0" height="5.0"/><rect x="516.1" y="147.5" width="5.0" height="5.0"/><rect x="516.2" y="147.7" width="5.0" height="5.0"/><rect x="516.4" y="147.5" width="5.0" height="5.0"/><rect x="516.6" y="147.6" width="5.0" height="5.0"/><rect x="516.8" y="147.6" width="5.0" height="5.0"/><rect x="516.9" y="147.5" width="5.0" height="5.0"/><rect x="517.1" y="147.4" width="5.0" height="5.0"/><rect x="517.3" y="147.7" width="5.0" height="5.0"/></g>
<g fill="#f00"><circle cx="334.3" cy="22.6" r="2.75"/><circle cx="358.6" cy="82.3" r="2.75"/><circle cx="372.8" cy="93.4" r="2.75"/><circle cx="382.9" cy="103.0" r="2.75"/><circle cx="390.7" cy="106.1" r="2.75"/><circle cx="397.1" cy="110.7" r="2.75"/><circle cx="402.5" cy="112.8" r="2.75"/><circle cx="407.1" cy="111.8" r="2.75"/><circle cx="411.2" cy="118.3" r="2.75"/><circle cx="414.9" cy="117.2" r="2.75"/><circle cx="418.3" cy="116.6" r="2.75"/><circle cx="421.3" cy="117.5" r="2.75"/><circle cx="424.1" cy="118.5" r="2.75"/><circle cx="426.7" cy="118.9" r="2.75"/><circle cx="429.1" cy="119.8" r="2.75"/><circle cx="431.4" cy="120.4" r="2.75"/><circle cx="433.5" cy="120.7" r="2.75"/><circle cx="435.5" cy="121.4" r="2.75"/><circle cx="437.4" cy="122.3" r="2.75"/><circle cx="439.2" cy="122.2" r="2.75"/><circle cx="440.9" cy="123.0" r="2.75"/><circle cx="442.5" cy="123.2" r="2.75"/><circle cx="444.1" cy="123.8" r="2.75"/><circle cx="445.6" cy="124.0" r="2.75"/><circle cx="447.0" cy="124.6" r="2.75"/><circle cx="448.4" cy="124.1" r="2.75"/><circle cx="449.7" cy="124.5" r="2.75"/><circle cx="451.0" cy="125.3" r="2.75"/><circle cx="452.2" cy="125.6" r="2.75"/><circle cx="453.4" cy="125.9" r="2.75"/><circle cx="454.5" cy="125.5" r="2.75"/><circle cx="455.7" cy="126.1" r="2.75"/><circle cx="456.7" cy="126.2" r="2.75"/><circle cx="457.8" cy="126.4" r="2.75"/><circle cx="458.8" cy="126.6" r="2.75"/><circle cx="459.8" cy="127.0" r="2.75"/><circle cx="460.7" cy="126.9" r="2.75"/><circle cx="461.7" cy="127.4" r="2.75"/><circle cx="462.6" cy="127.3" r="2.75"/><circle cx="463.5" cy="127.4" r="2.75"/><circle cx="464.3" cy="127.5" r="2.75"/><circle cx="465.2" cy="127.8" r="2.75"/><circle cx="466.0" cy="128.1" r="2.75"/><circle cx="466.8" cy="128.1" r="2.75"/><circle cx="467.6" cy="128.4" r="2.75"/><circle cx="468.4" cy="128.1" r="2.75"/><circle cx="469.1" cy="128.4" r="2.75"/><circle cx="469.8" cy="128.7" r="2.75"/><circle cx="470.6" cy="128.9" r="2.75"/><circle cx="471.3" cy="129.1" r="2.75"/><circle cx="472.0" cy="129.3" r="2.75"/><circle cx="472.6" cy="129.3" r="2.75"/><circle cx="473.3" cy="129.3" r="2.75"/><circle cx="474.0" cy="129.4" r="2.75"/><circle cx="474.6" cy="129.5" r="2.75"/><circle cx="475.2" cy="129.3" r="2.75"/><circle cx="475.9" cy="130.1" r="2.75"/><circle cx="476.5" cy="130.1" r="2.75"/><circle cx="477.1" cy="129.6" r="2.75"/><circle cx="477.7" cy="130.7" r="2.75"/><circle cx="478.2" cy="130.6" r="2.75"/><circle cx="478.8" cy="130.5" r="2.75"/><circle cx="479.4" cy="130.7" r="2.75"/><circle cx="479.9" cy="130.7" r="2.75"/><circle cx="480.5" cy="131.0" r="2.75"/><circle cx="481.0" cy="131.0" r="2.75"/><circle cx="481.5" cy="131.2" r="2.75"/><circle cx="482.0" cy="131.1" r="2.75"/><circle cx="482.5" cy="131.8" r="2.75"/><circle cx="483.1" cy="131.7" r="2.75"/><circle cx="483.5" cy="131.6" r="2.75"/><circle cx="484.0" cy="132.0" r="2.75"/><circle cx="484.5" cy="132.1" r="2.75"/><circle cx="485.0" cy="131.8" r="2.75"/><circle cx="485.5" cy="132.2" r="2.75"/><circle cx="485.9" cy="132.0" r="2.75"/><circle cx="486.4" cy="132.1" r="2.75"/><circle cx="486.8" cy="132.3" r="2.75"/><circle cx="487.3" cy="132.3" r="2.75"/><circle cx="487.7" cy="132.6" r="2.75"/><circle cx="488.2" cy="132.9" r="2.75"/><circle cx="488.6" cy="132.7" r="2.75"/><circle cx="489.0" cy="132.7" r="2.75"/><circle cx="489.4" cy="133.0" r="2.75"/><circle cx="489.8" cy="133.0" r="2.75"/><circle cx="490.3" cy="132.9" r="2.75"/><circle cx="490.7" cy="133.4" r="2.75"/><circle cx="491.1" cy="133.1" r="2.75"/><circle cx="491.5" cy="133.0" r="2.75"/><circle cx="491.8" cy="133.6" r="2.75"/><circle cx="492.2" cy="133.5" r="2.75"/><circle cx="492.6" cy="133.6" r="2.75"/><circle cx="493.0" cy="133.4" r="2.75"/><circle cx="493.4" cy="133.7" r="2.75"/><circle cx="493.7" cy="133.7" r="2.75"/><circle cx="494.1" cy="134.1" r="2.75"/><circle cx="494.5" cy="134.0" r="2.75"/><circle cx="494.8" cy="134.1" r="2.75"/><circle cx="495.2" cy="134.6" r="2.75"/><circle cx="495.5" cy="133.9" r="2.75"/><circle cx="495.9" cy="134.1" r="2.75"/><circle cx="496.2" cy="134.8" r="2.75"/><circle cx="496.6" cy="134.3" r="2.75"/><circle cx="496.9" cy="134.6" r="2.75"/><circle cx="497.2" cy="134.5" r="2.75"/><circle cx="497.6" cy="134.6" r="2.75"/><circle cx="497.9" cy="135.1" r="2.75"/><circle cx="498.2" cy="134.9" r="2.75"/><circle cx="498.6" cy="134.5" r="2.75"/><circle cx="498.9" cy="135.1" r="2.75"/><circle cx="499.2" cy="135.2" r="2.75"/><circle cx="499.5" cy="135.4" r="2.75"/><circle cx="499.8" cy="135.4" r="2.75"/><circle cx="500.1" cy="135.1" r="2.75"/><circle cx="500.4" cy="134.9" r="2.75"/><circle cx="500.7" cy="135.2" r="2.75"/><circle cx="501.0" cy="135.3" r="2.75"/><circle cx="501.3" cy="134.9" r="2.75"/><circle cx="501.6" cy="135.6" r="2.75"/><circle cx="501.9" cy="135.7" r="2.75"/><circle cx="502.2" cy="135.5" r="2.75"/><circle cx="502.5" cy="135.6" r="2.75"/><circle cx="502.8" cy="136.0" r="2.75"/><circle cx="503.1" cy="136.0" r="2.75"/><circle cx="503.3" cy="135.8" r="2.75"/><circle cx="503.6" cy="135.9" r="2.75"/><circle cx="503.9" cy="136.2" r="2.75"/><circle cx="504.2" cy="136.1" r="2.75"/><circle cx="504.5" cy="136.2" r="2.75"/><circle cx="504.7" cy="136.0" r="2.75"/><circle cx="505.0" cy="136.2" r="2.75"/><circle cx="505.3" cy="136.3" r="2.75"/><circle cx="505.5" cy="136.4" r="2.75"/><circle cx="505.8" cy="136.1" r="2.75"/><circle cx="506.0" cy="136.1" r="2.75"/><circle cx="506.3" cy="136.5" r="2.75"/><circle cx="506.6" cy="136.3" r="2.75"/><circle cx="506.8" cy="136.7" r="2.75"/><circle cx="507.1" cy="136.6" r="2.75"/><circle cx="507.3" cy="136.5" r="2.75"/><circle cx="507.6" cy="136.4" r="2.75"/><circle cx="507.8" cy="136.8" r="2.75"/><circle cx="508.1" cy="136.8" r="2.75"/><circle cx="508.3" cy="136.8" r="2.75"/><circle cx="508.5" cy="137.2" r="2.75"/><circle cx="508.8" cy="136.9" r="2.75"/><circle cx="509.0" cy="137.1" r="2.75"/><circle cx="509.3" cy="136.9" r="2.75"/><circle cx="509.5" cy="137.3" r="2.75"/><circle cx="509.7" cy="137.5" r="2.75"/><circle cx="510.0" cy="137.1" r="2.75"/><circle cx="510.2" cy="137.1" r="2.75"/><circle cx="510.4" cy="137.3" r="2.75"/><circle cx="510.7" cy="137.0" r="2.75"/><circle cx="510.9" cy="137.3" r="2.75"/><circle cx="511.1" cy="137.4" r="2.75"/><circle cx="511.3" cy="137.2" r="2.75"/><circle cx="511.5" cy="137.7" r="2.75"/><circle cx="511.8" cy="137.5" r="2.75"/><circle cx="512.0" cy="137.4" r="2.75"/><circle cx="512.2" cy="137.3" r="2.75"/><circle cx="512.4" cy="137.5" r="2.75"/><circle cx="512.6" cy="137.5" r="2.75"/><circle cx="512.9" cy="137.7" r="2.75"/><circle cx="513.1" cy="137.6" r="2.75"/><circle cx="513.3" cy="137.3" r="2.75"/><circle cx="513.5" cy="137.8" r="2.75"/><circle cx="513.7" cy="137.2" r="2.75"/><circle cx="513.9" cy="137.9" r="2.75"/><circle cx="514.1" cy="137.8" r="2.75"/><circle cx="514.3" cy="137.8" r="2.75"/><circle cx="514.5" cy="137.6" r="2.75"/><circle cx="514.7" cy="138.2" r="2.75"/><circle cx="514.9" cy="138.4" r="2.75"/><circle cx="515.1" cy="137.8" r="2.75"/><circle cx="515.3" cy="137.8" r="2.75"/><circle cx="515.5" cy="137.9" r="2.75"/><circle cx="515.7" cy="137.5" r="2.75"/><circle cx="515.9" cy="138.0" r="2.75"/><circle cx="516.1" cy="138.1" r="2.75"/><circle cx="516.3" cy="138.0" r="2.75"/><circle cx="516.5" cy="138.1" r="2.75"/><circle cx="516.7" cy="137.9" r="2.75"/><circle cx="516.9" cy="138.5" r="2.75"/><circle cx="517.1" cy="138.4" r="2.75"/><circle cx="517.3" cy="139.1" r="2.75"/><circle cx="517.4" cy="138.2" r="2.75"/><circle cx="517.6" cy="138.5" r="2.75"/><circle cx="517.8" cy="138.2" r="2.75"/><circle cx="518.0" cy="138.0" r="2.75"/><circle cx="518.2" cy="138.5" r="2.75"/><circle cx="518.4" cy="138.6" r="2.75"/><circle cx="518.6" cy="138.6" r="2.75"/><circle cx="518.7" cy="138.7" r="2.75"/><circle cx="518.9" cy="138.7" r="2.75"/><circle cx="519.1" cy="138.5" r="2.75"/><circle cx="519.3" cy="138.6" r="2.75"/><circle cx="519.4" cy="138.7" r="2.75"/><circle cx="519.6" cy="138.7" r="2.75"/><circle cx="519.8" cy="138.5" r="2.75"/></g>
<g fill="#00f"><path d="M331.3 86.1h6.0L334.3 91.2z"/><path d="M355.6 112.0h6.0L358.6 117.1z"/><path d="M369.8 121.1h6.0L372.8 126.2z"/><path d="M379.9 124.5h6.0L382.9 129.6z"/><path d="M387.7 128.4h6.0L390.7 133.5z"/><path d="M394.1 130.0h6.0L397.1 135.1z"/><path d="M399.5 131.4h6.0L402.5 136.5z"/><path d="M404.1 132.8h6.0L407.1 137.9z"/><path d="M408.2 133.4h6.0L411.2 138.5z"/><path d="M411.9 135.6h6.0L414.9 140.7z"/><path d="M415.3 135.2h6.0L418.3 140.3z"/><path d="M418.3 135.4h6.0L421.3 140.5z"/><path d="M421.1 135.7h6.0L424.1 140.8z"/><path d="M423.7 135.6h6.0L426.7 140.7z"/><path d="M426.1 135.8h6.0L429.1 140.9z"/><path d="M428.4 136.0h6.0L431.4 141.1z"/><path d="M430.5 136.3h6.0L433.5 141.4z"/><path d="M432.5 135.9h6.0L435.5 141.0z"/><path d="M434.4 136.1h6.0L437.4 141.2z"/><path d="M436.2 136.2h6.0L439.2 141.3z"/><path d="M437.9 136.2h6.0L440.9 141.3z"/><path d="M439.5 136.3h6.0L442.5 141.4z"/><path d="M441.1 136.3h6.0L444.1 141.4z"/><path d="M442.6 136.5h6.0L445.6 141.6z"/><path d="M444.0 136.5h6.0L447.0 141.6z"/><path d="M445.4 136.9h6.0L448.4 142.0z"/><path d="M446.7 136.7h6.0L449.7 141.8z"/><path d="M448.0 136.6h6.0L451.0 141.7z"/><path d="M449.2 136.5h6.0L452.2 141.6z"/><path d="M450.4 136.9h6.0L453.4 142.0z"/><path d="M451.5 136.9h6.0L454.5 142.0z"/><path d="M452.7 136.7h6.0L455.7 141.8z"/><path d="M453.7 137.0h6.0L456.7 142.1z"/><path d="M454.8 136.9h6.0L457.8 142.0z"/><path d="M455.8 136.8h6.0L458.8 141.9z"/><path d="M456.8 137.1h6.0L459.8 142.2z"/><path d="M457.7 136.9h6.0L460.7 142.0z"/><path d="M458.7 137.3h6.0L461.7 142.4z"/><path d="M459.6 137.2h6.0L462.6 142.3z"/><path d="M460.5 137.3h6.0L463.5 142.4z"/><path d="M461.3 137.3h6.0L464.3 142.4z"/><path d="M462.2 137.2h6.0L465.2 142.3z"/><path d="M463.0 137.0h6.0L466.0 142.1z"/><path d="M463.8 137.5h6.0L466.8 142.6z"/><path d="M464.6 137.6h6.0L467.6 142.7z"/><path d="M465.4 137.4h6.0L468.4 142.5z"/><path d="M466.1 137.7h6.0L469.1 142.8z"/><path d="M466.8 137.5h6.0L469.8 142.6z"/><path d="M467.6 137.5h6.0L470.6 142.6z"/><path d="M468.3 137.7h6.0L471.3 142.8z"/><path d="M469.0 137.6h6.0L472.0 142.7z"/><path d="M469.6 138.0h6.0L472.6 143.1z"/><path d="M470.3 137.6h6.0L473.3 142.7z"/><path d="M471.0 138.1h6.0L474.0 143.2z"/><path d="M471.6 137.9h6.0L474.6 143.0z"/><path d="M472.2 138.0h6.0L475.2 143.1z"/><path d="M472.9 138.0h6.0L475.9 143.1z"/><path d="M473.5 137.8h6.0L476.5 142.9z"/><path d="M474.1 137.9h6.0L477.1 143.0z"/><path d="M474.7 138.1h6.0L477.7 143.2z"/><path d="M475.2 137.9h6.0L478.2 143.0z"/><path d="M475.8 137.8h6.0L478.8 142.9z"/><path d="M476.4 138.1h6.0L479.4 143.2z"/><path d="M476.9 138.0h6.0L479.9 143.1z"/><path d="M477.5 137.9h6.0L480.5 143.0z"/><path d="M478.0 138.1h6.0L481.0 143.2z"/><path d="M478.5 138.4h6.0L481.5 143.5z"/><path d="M479.0 137.8h6.0L482.0 142.9z"/><path d="M479.5 137.9h6.0L482.5 143.0z"/><path d="M480.1 138.6h6.0L483.1 143.7z"/><path d="M480.5 138.3h6.0L483.5 143.4z"/><path d="M481.0 138.2h6.0L484.0 143.3z"/><path d="M481.5 138.2h6.0L484.5 143.3z"/><path d="M482.0 138.3h6.0L485.0 143.4z"/><path d="M482.5 138.4h6.0L485.5 143.5z"/><path d="M482.9 138.6h6.0L485.9 143.7z"/><path d="M483.4 138.4h6.0L486.4 143.5z"/><path d="M483.8 138.3h6.0L486.8 143.4z"/><path d="M484.3 138.7h6.0L487.3 143.8z"/><path d="M484.7 138.7h6.0L487.7 143.8z"/><path d="M485.2 138.5h6.0L488.2 143.6z"/><path d="M485.6 138.9h6.0L488.6 144.0z"/><path d="M486.0 138.6h6.0L489.0 143.7z"/><path d="M486.4 138.7h6.0L489.4 143.8z"/><path d="M486.8 138.5h6.0L489.8 143.6z"/><path d="M487.3 138.8h6.0L490.3 143.9z"/><path d="M487.7 138.8h6.0L490.7 143.9z"/><path d="M488.1 138.7h6.0L491.1 143.8z"/><path d="M488.5 138.7h6.0L491.5 143.8z"/><path d="M488.8 138.8h6.0L491.8 143.9z"/><path d="M489.2 138.7h6.0L492.2 143.8z"/><path d="M489.6 138.6h6.0L492.6 143.7z"/><path d="M490.0 138.6h6.0L493.0 143.7z"/><path d="M490.4 138.5h6.0L493.4 143.6z"/><path d="M490.7 138.9h6.0L493.7 144.0z"/><path d="M491.1 138.9h6.0L494.1 144.0z"/><path d="M491.5 139.3h6.0L494.5 144.4z"/><path d="M491.8 138.6h6.0L494.8 143.7z"/><path d="M492.2 139.0h6.0L495.2 144.1z"/><path d="M492.5 138.9h6.0L495.5 144.0z"/><path d="M492.9 138.8h6.0L495.9 143.9z"/><path d="M493.2 139.2h6.0L496.2 144.3z"/><path d="M493.6 138.9h6.0L496.6 144.0z"/><path d="M493.9 139.0h6.0L496.9 144.1z"/><path d="M494.2 139.3h6.0L497.2 144.4z"/><path d="M494.6 139.0h6.0L497.6 144.1z"/><path d="M494.9 138.9h6.0L497.9 144.0z"/><path d="M495.2 139.4h6.0L498.2 144.5z"/><path d="M495.6 139.0h6.0L498.6 144.1z"/><path d="M495.9 139.1h6.0L498.9 144.2z"/><path d="M496.2 139.1h6.0L499.2 144.2z"/><path d="M496.5 139.1h6.0L499.5 144.2z"/><path d="M496.8 139.0h6.0L499.8 144.1z"/><path d="M497.1 139.3h6.0L500.1 144.4z"/><path d="M497.4 139.1h6.0L500.4 144.2z"/><path d="M497.7 139.4h6.0L500.7 144.5z"/><path d="M498.0 139.2h6.0L501.0 144.3z"/><path d="M498.3 139.5h6.0L501.3 144.6z"/><path d="M498.6 139.4h6.0L501.6 144.5z"/><path d="M498.9 139.1h6.0L501.9 144.2z"/><path d="M499.2 139.3h6.0L502.2 144.4z"/><path d="M499.5 139.5h6.0L502.5 144.6z"/><path d="M499.8 139.6h6.0L502.8 144.7z"/><path d="M500.1 139.6h6.0L503.1 144.7z"/><path d="M500.3 139.5h6.0L503.3 144.6z"/><path d="M500.6 139.4h6.0L503.6 144.5z"/><path d="M500.9 139.5h6.0L503.9 144.6z"/><path d="M501.2 139.5h6.0L504.2 144.6z"/><path d="M501.5 139.6h6.0L504.5 144.7z"/><path d="M501.7 139.4h6.0L504.7 144.5z"/><path d="M502.0 139.7h6.0L505.0 144.8z"/><path d="M502.3 139.7h6.0L505.3 144.8z"/><path d="M502.5 139.5h6.0L505.5 144.6z"/><path d="M502.8 139.7h6.0L505.8 144.8z"/><path d="M503.0 139.8h6.0L506.0 144.9z"/><path d="M503.3 139.8h6.0L506.3 144.9z"/><path d="M503.6 139.8h6.0L506.6 144.9z"/><path d="M503.8 139.7h6.0L506.8 144.8z"/><path d="M504.1 139.7h6.0L507.1 144.8z"/><path d="M504.3 140.0h6.0L507.3 145.1z"/><path d="M504.6 139.8h6.0L507.6 144.9z"/><path d="M504.8 139.8h6.0L507.8 144.9z"/><path d="M505.1 140.0h6.0L508.1 145.1z"/><path d="M505.3 139.8h6.0L508.3 144.9z"/><path d="M505.5 139.9h6.0L508.5 145.0z"/><path d="M505.8 140.0h6.0L508.8 145.1z"/><path d="M506.0 139.8h6.0L509.0 144.9z"/><path d="M506.3 139.7h6.0L509.3 144.8z"/><path d="M506.5 140.1h6.0L509.5 145.2z"/><path d="M506.7 139.9h6.0L509.7 145.0z"/><path d="M507.0 140.2h6.0L510.0 145.3z"/><path d="M507.2 139.6h6.0L510.2 144.7z"/><path d="M507.4 140.1h6.0L510.4 145.2z"/><path d="M507.7 139.9h6.0L510.7 145.0z"/><path d="M507.9 140.2h6.0L510.9 145.3z"/><path d="M508.1 140.0h6.0L511.1 145.1z"/><path d="M508.3 139.8h6.0L511.3 144.9z"/><path d="M508.5 140.5h6.0L511.5 145.6z"/><path d="M508.8 140.2h6.0L511.8 145.3z"/><path d="M509.0 140.1h6.0L512.0 145.2z"/><path d="M509.2 140.2h6.0L512.2 145.3z"/><path d="M509.4 140.3h6.0L512.4 145.4z"/><path d="M509.6 139.9h6.0L512.6 145.0z"/><path d="M509.9 140.2h6.0L512.9 145.3z"/><path d="M510.1 140.5h6.0L513.1 145.6z"/><path d="M510.3 140.1h6.0L513.3 145.2z"/><path d="M510.5 140.6h6.0L513.5 145.7z"/><path d="M510.7 140.1h6.0L513.7 145.2z"/><path d="M510.9 140.4h6.0L513.9 145.5z"/><path d="M511.1 140.3h6.0L514.1 145.4z"/><path d="M511.3 140.1h6.0L514.3 145.2z"/><path d="M511.5 140.3h6.0L514.5 145.4z"/><path d="M511.7 140.6h6.0L514.7 145.7z"/><path d="M511.9 140.7h6.0L514.9 145.8z"/><path d="M512.1 140.2h6.0L515.1 145.3z"/><path d="M512.3 140.3h6.0L515.3 145.4z"/><path d="M512.5 140.6h6.0L515.5 145.7z"/><path d="M512.7 140.3h6.0L515.7 145.4z"/><path d="M512.9 140.4h6.0L515.9 145.5z"/><path d="M513.1 140.4h6.0L516.1 145.5z"/><path d="M513.3 140.9h6.0L516.3 146.0z"/><path d="M513.5 140.6h6.0L516.5 145.7z"/><path d="M513.7 140.4h6.0L516.7 145.5z"/><path d="M513.9 140.4h6.0L516.9 145.5z"/><path d="M514.1 140.4h6.0L517.1 145.5z"/><path d="M514.3 141.0h6.0L517.3 146.1z"/><path d="M514.4 140.6h6.0L517.4 145.7z"/><path d="M514.6 140.5h6.0L517.6 145.6z"/><path d="M514.8 140.2h6.0L517.8 145.3z"/><path d="M515.0 140.8h6.0L518.0 145.9z"/><path d="M515.2 140.7h6.0L518.2 145.8z"/><path d="M515.4 140.6h6.0L518.4 145.7z"/><path d="M515.6 140.5h6.0L518.6 145.6z"/><path d="M515.7 140.8h6.0L518.7 145.9z"/><path d="M515.9 140.5h6.0L518.9 145.6z"/><path d="M516.1 140.8h6.0L519.1 145.9z"/><path d="M516.3 140.7h6.0L519.3 145.8z"/><path d="M516.4 140.8h6.0L519.4 145.9z"/><path d="M516.6 140.7h6.0L519.6 145.8z"/><path d="M516.8 140.9h6.0L519.8 146.0z"/></g>
<rect x="316.6" y="7.1" width="226.9" height="148.5" fill="none" stroke="#2a2a2a" stroke-width="1.05"/>
<path d="M316.6 155.2h3.4M316.6 122.3h3.4M316.6 89.3h3.4M316.6 56.4h3.4M316.6 23.5h3.4M316.6 138.7h1.9M316.6 105.8h1.9M316.6 72.9h1.9M316.6 40.0h1.9M326.5 155.6v-1.9M334.3 155.6v-1.9M340.7 155.6v-1.9M346.1 155.6v-1.9M350.8 155.6v-1.9M354.9 155.6v-1.9M358.6 155.6v-3.3M382.9 155.6v-1.9M397.1 155.6v-1.9M407.1 155.6v-1.9M414.9 155.6v-1.9M421.3 155.6v-1.9M426.7 155.6v-1.9M431.4 155.6v-1.9M435.5 155.6v-1.9M439.2 155.6v-3.3M463.5 155.6v-1.9M477.7 155.6v-1.9M487.7 155.6v-1.9M495.5 155.6v-1.9M501.9 155.6v-1.9M507.3 155.6v-1.9M512.0 155.6v-1.9M516.1 155.6v-1.9M519.8 155.6v-3.3" stroke="#2a2a2a" stroke-width="1" fill="none"/>
<text transform="translate(302.2,158.8) scale(1,1)" text-anchor="end" font-size="13.3">0</text>
<text transform="translate(302.2,125.9) scale(1,1)" text-anchor="end" font-size="13.3">30</text>
<text transform="translate(302.2,92.9) scale(1,1)" text-anchor="end" font-size="13.3">60</text>
<text transform="translate(302.2,60.0) scale(1,1)" text-anchor="end" font-size="13.3">90</text>
<text transform="translate(302.2,27.1) scale(1,1)" text-anchor="end" font-size="13.3">120</text>
<text transform="translate(358.8,171.2) scale(0.96,1)" text-anchor="middle" font-size="13.3">10<tspan dx="0.4" dy="-6.9" font-size="7.2">4</tspan></text>
<text transform="translate(439.4,171.2) scale(0.96,1)" text-anchor="middle" font-size="13.3">10<tspan dx="0.4" dy="-6.9" font-size="7.2">5</tspan></text>
<text transform="translate(520.0,171.2) scale(0.96,1)" text-anchor="middle" font-size="13.3">10<tspan dx="0.4" dy="-6.9" font-size="7.2">6</tspan></text>
<g fill="#000"><rect x="188.0" y="267.6" width="5.0" height="5.0"/><rect x="213.2" y="297.0" width="5.0" height="5.0"/><rect x="226.9" y="303.9" width="5.0" height="5.0"/><rect x="238.4" y="309.1" width="5.0" height="5.0"/><rect x="246.5" y="313.8" width="5.0" height="5.0"/><rect x="253.1" y="317.4" width="5.0" height="5.0"/><rect x="258.7" y="317.5" width="5.0" height="5.0"/><rect x="263.5" y="317.5" width="5.0" height="5.0"/><rect x="267.8" y="320.9" width="5.0" height="5.0"/><rect x="271.6" y="321.9" width="5.0" height="5.0"/><rect x="275.1" y="322.6" width="5.0" height="5.0"/><rect x="278.3" y="323.2" width="5.0" height="5.0"/><rect x="281.2" y="323.9" width="5.0" height="5.0"/><rect x="283.9" y="324.2" width="5.0" height="5.0"/><rect x="286.4" y="324.8" width="5.0" height="5.0"/><rect x="288.7" y="325.2" width="5.0" height="5.0"/><rect x="290.9" y="325.7" width="5.0" height="5.0"/><rect x="293.0" y="326.0" width="5.0" height="5.0"/><rect x="294.9" y="326.4" width="5.0" height="5.0"/><rect x="296.8" y="326.7" width="5.0" height="5.0"/><rect x="298.6" y="326.9" width="5.0" height="5.0"/><rect x="300.3" y="327.0" width="5.0" height="5.0"/><rect x="301.9" y="327.6" width="5.0" height="5.0"/><rect x="303.4" y="327.5" width="5.0" height="5.0"/><rect x="304.9" y="327.7" width="5.0" height="5.0"/><rect x="306.3" y="327.6" width="5.0" height="5.0"/><rect x="307.7" y="328.1" width="5.0" height="5.0"/><rect x="309.0" y="328.1" width="5.0" height="5.0"/><rect x="310.3" y="328.2" width="5.0" height="5.0"/><rect x="311.5" y="328.3" width="5.0" height="5.0"/><rect x="312.7" y="328.2" width="5.0" height="5.0"/><rect x="313.9" y="328.6" width="5.0" height="5.0"/><rect x="315.0" y="328.4" width="5.0" height="5.0"/><rect x="316.1" y="329.0" width="5.0" height="5.0"/><rect x="317.1" y="329.1" width="5.0" height="5.0"/><rect x="318.1" y="328.7" width="5.0" height="5.0"/><rect x="319.1" y="329.0" width="5.0" height="5.0"/><rect x="320.1" y="329.1" width="5.0" height="5.0"/><rect x="321.0" y="329.3" width="5.0" height="5.0"/><rect x="322.0" y="329.3" width="5.0" height="5.0"/><rect x="322.9" y="329.7" width="5.0" height="5.0"/><rect x="323.7" y="329.5" width="5.0" height="5.0"/><rect x="324.6" y="329.8" width="5.0" height="5.0"/><rect x="325.4" y="329.7" width="5.0" height="5.0"/><rect x="326.2" y="329.9" width="5.0" height="5.0"/><rect x="327.0" y="330.4" width="5.0" height="5.0"/><rect x="327.8" y="330.4" width="5.0" height="5.0"/><rect x="328.6" y="330.0" width="5.0" height="5.0"/><rect x="329.3" y="330.3" width="5.0" height="5.0"/><rect x="330.1" y="330.5" width="5.0" height="5.0"/><rect x="330.8" y="330.5" width="5.0" height="5.0"/><rect x="331.5" y="330.7" width="5.0" height="5.0"/><rect x="332.2" y="330.8" width="5.0" height="5.0"/><rect x="332.9" y="330.7" width="5.0" height="5.0"/><rect x="333.5" y="330.8" width="5.0" height="5.0"/><rect x="334.2" y="330.7" width="5.0" height="5.0"/><rect x="334.8" y="331.0" width="5.0" height="5.0"/><rect x="335.5" y="330.8" width="5.0" height="5.0"/><rect x="336.1" y="330.9" width="5.0" height="5.0"/><rect x="336.7" y="330.9" width="5.0" height="5.0"/><rect x="337.3" y="331.1" width="5.0" height="5.0"/><rect x="337.9" y="331.3" width="5.0" height="5.0"/><rect x="338.5" y="331.4" width="5.0" height="5.0"/><rect x="339.0" y="331.5" width="5.0" height="5.0"/><rect x="339.6" y="331.6" width="5.0" height="5.0"/><rect x="340.1" y="331.6" width="5.0" height="5.0"/><rect x="340.7" y="331.7" width="5.0" height="5.0"/><rect x="341.2" y="331.4" width="5.0" height="5.0"/><rect x="341.8" y="331.6" width="5.0" height="5.0"/><rect x="342.3" y="331.8" width="5.0" height="5.0"/><rect x="342.8" y="332.1" width="5.0" height="5.0"/><rect x="343.3" y="331.8" width="5.0" height="5.0"/><rect x="343.8" y="331.9" width="5.0" height="5.0"/><rect x="344.3" y="332.1" width="5.0" height="5.0"/><rect x="344.8" y="332.1" width="5.0" height="5.0"/><rect x="345.3" y="332.4" width="5.0" height="5.0"/><rect x="345.7" y="331.9" width="5.0" height="5.0"/><rect x="346.2" y="332.1" width="5.0" height="5.0"/><rect x="346.7" y="331.7" width="5.0" height="5.0"/><rect x="347.1" y="332.1" width="5.0" height="5.0"/><rect x="347.6" y="332.2" width="5.0" height="5.0"/><rect x="348.0" y="332.0" width="5.0" height="5.0"/><rect x="348.5" y="332.2" width="5.0" height="5.0"/><rect x="348.9" y="332.3" width="5.0" height="5.0"/><rect x="349.3" y="332.4" width="5.0" height="5.0"/><rect x="349.8" y="332.5" width="5.0" height="5.0"/><rect x="350.2" y="332.2" width="5.0" height="5.0"/><rect x="350.6" y="332.3" width="5.0" height="5.0"/><rect x="351.0" y="332.2" width="5.0" height="5.0"/><rect x="351.4" y="332.6" width="5.0" height="5.0"/><rect x="351.8" y="332.5" width="5.0" height="5.0"/><rect x="352.2" y="332.7" width="5.0" height="5.0"/><rect x="352.6" y="332.4" width="5.0" height="5.0"/><rect x="353.0" y="332.9" width="5.0" height="5.0"/><rect x="353.4" y="332.6" width="5.0" height="5.0"/><rect x="353.8" y="332.5" width="5.0" height="5.0"/><rect x="354.1" y="332.5" width="5.0" height="5.0"/><rect x="354.5" y="332.9" width="5.0" height="5.0"/><rect x="354.9" y="332.6" width="5.0" height="5.0"/><rect x="355.2" y="332.9" width="5.0" height="5.0"/><rect x="355.6" y="333.0" width="5.0" height="5.0"/><rect x="356.0" y="333.1" width="5.0" height="5.0"/><rect x="356.3" y="332.7" width="5.0" height="5.0"/><rect x="356.7" y="332.7" width="5.0" height="5.0"/><rect x="357.0" y="333.1" width="5.0" height="5.0"/><rect x="357.3" y="333.1" width="5.0" height="5.0"/><rect x="357.7" y="333.1" width="5.0" height="5.0"/><rect x="358.0" y="332.7" width="5.0" height="5.0"/><rect x="358.4" y="332.9" width="5.0" height="5.0"/><rect x="358.7" y="333.2" width="5.0" height="5.0"/><rect x="359.0" y="333.4" width="5.0" height="5.0"/><rect x="359.3" y="333.3" width="5.0" height="5.0"/><rect x="359.7" y="333.0" width="5.0" height="5.0"/><rect x="360.0" y="332.9" width="5.0" height="5.0"/><rect x="360.3" y="333.3" width="5.0" height="5.0"/><rect x="360.6" y="333.4" width="5.0" height="5.0"/><rect x="360.9" y="333.4" width="5.0" height="5.0"/><rect x="361.2" y="333.6" width="5.0" height="5.0"/><rect x="361.5" y="333.2" width="5.0" height="5.0"/><rect x="361.9" y="333.6" width="5.0" height="5.0"/><rect x="362.2" y="333.2" width="5.0" height="5.0"/><rect x="362.5" y="333.7" width="5.0" height="5.0"/><rect x="362.7" y="333.7" width="5.0" height="5.0"/><rect x="363.0" y="333.4" width="5.0" height="5.0"/><rect x="363.3" y="333.6" width="5.0" height="5.0"/><rect x="363.6" y="333.4" width="5.0" height="5.0"/><rect x="363.9" y="333.6" width="5.0" height="5.0"/><rect x="364.2" y="333.8" width="5.0" height="5.0"/><rect x="364.5" y="333.5" width="5.0" height="5.0"/><rect x="364.8" y="333.5" width="5.0" height="5.0"/><rect x="365.0" y="334.0" width="5.0" height="5.0"/><rect x="365.3" y="333.4" width="5.0" height="5.0"/><rect x="365.6" y="333.6" width="5.0" height="5.0"/><rect x="365.9" y="333.6" width="5.0" height="5.0"/><rect x="366.1" y="334.1" width="5.0" height="5.0"/><rect x="366.4" y="333.9" width="5.0" height="5.0"/><rect x="366.7" y="333.9" width="5.0" height="5.0"/><rect x="366.9" y="333.6" width="5.0" height="5.0"/><rect x="367.2" y="334.1" width="5.0" height="5.0"/><rect x="367.5" y="334.0" width="5.0" height="5.0"/><rect x="367.7" y="334.2" width="5.0" height="5.0"/><rect x="368.0" y="333.9" width="5.0" height="5.0"/><rect x="368.2" y="333.9" width="5.0" height="5.0"/><rect x="368.5" y="334.2" width="5.0" height="5.0"/><rect x="368.7" y="334.1" width="5.0" height="5.0"/><rect x="369.0" y="333.9" width="5.0" height="5.0"/><rect x="369.2" y="333.8" width="5.0" height="5.0"/><rect x="369.5" y="333.9" width="5.0" height="5.0"/><rect x="369.7" y="334.1" width="5.0" height="5.0"/><rect x="370.0" y="334.3" width="5.0" height="5.0"/><rect x="370.2" y="334.3" width="5.0" height="5.0"/><rect x="370.4" y="334.2" width="5.0" height="5.0"/><rect x="370.7" y="334.1" width="5.0" height="5.0"/><rect x="370.9" y="334.2" width="5.0" height="5.0"/><rect x="371.1" y="333.9" width="5.0" height="5.0"/><rect x="371.4" y="334.1" width="5.0" height="5.0"/><rect x="371.6" y="334.4" width="5.0" height="5.0"/><rect x="371.8" y="334.0" width="5.0" height="5.0"/><rect x="372.1" y="334.1" width="5.0" height="5.0"/><rect x="372.3" y="334.3" width="5.0" height="5.0"/><rect x="372.5" y="334.4" width="5.0" height="5.0"/><rect x="372.7" y="334.6" width="5.0" height="5.0"/><rect x="373.0" y="334.5" width="5.0" height="5.0"/><rect x="373.2" y="334.2" width="5.0" height="5.0"/><rect x="373.4" y="334.5" width="5.0" height="5.0"/><rect x="373.6" y="334.6" width="5.0" height="5.0"/><rect x="373.9" y="334.4" width="5.0" height="5.0"/><rect x="374.1" y="334.4" width="5.0" height="5.0"/><rect x="374.3" y="334.3" width="5.0" height="5.0"/><rect x="374.5" y="334.4" width="5.0" height="5.0"/><rect x="374.7" y="334.2" width="5.0" height="5.0"/><rect x="374.9" y="334.6" width="5.0" height="5.0"/><rect x="375.1" y="334.4" width="5.0" height="5.0"/><rect x="375.3" y="334.7" width="5.0" height="5.0"/><rect x="375.6" y="334.4" width="5.0" height="5.0"/><rect x="375.8" y="334.5" width="5.0" height="5.0"/><rect x="376.0" y="334.5" width="5.0" height="5.0"/><rect x="376.2" y="334.4" width="5.0" height="5.0"/><rect x="376.4" y="334.6" width="5.0" height="5.0"/><rect x="376.6" y="334.5" width="5.0" height="5.0"/><rect x="376.8" y="334.5" width="5.0" height="5.0"/><rect x="377.0" y="334.6" width="5.0" height="5.0"/><rect x="377.2" y="334.8" width="5.0" height="5.0"/><rect x="377.4" y="334.8" width="5.0" height="5.0"/><rect x="377.6" y="334.8" width="5.0" height="5.0"/><rect x="377.8" y="334.8" width="5.0" height="5.0"/><rect x="378.0" y="334.8" width="5.0" height="5.0"/><rect x="378.2" y="334.3" width="5.0" height="5.0"/><rect x="378.3" y="334.7" width="5.0" height="5.0"/><rect x="378.5" y="334.7" width="5.0" height="5.0"/><rect x="378.7" y="335.0" width="5.0" height="5.0"/><rect x="378.9" y="335.0" width="5.0" height="5.0"/><rect x="379.1" y="334.9" width="5.0" height="5.0"/><rect x="379.3" y="334.8" width="5.0" height="5.0"/><rect x="379.5" y="335.1" width="5.0" height="5.0"/><rect x="379.7" y="334.6" width="5.0" height="5.0"/><rect x="379.9" y="335.0" width="5.0" height="5.0"/><rect x="380.0" y="334.8" width="5.0" height="5.0"/><rect x="380.2" y="335.3" width="5.0" height="5.0"/><rect x="380.4" y="335.0" width="5.0" height="5.0"/></g>
<g fill="#f00"><circle cx="190.5" cy="211.1" r="2.75"/><circle cx="215.7" cy="254.9" r="2.75"/><circle cx="230.4" cy="275.1" r="2.75"/><circle cx="240.9" cy="284.4" r="2.75"/><circle cx="249.0" cy="293.6" r="2.75"/><circle cx="255.6" cy="299.0" r="2.75"/><circle cx="261.2" cy="301.6" r="2.75"/><circle cx="266.0" cy="305.3" r="2.75"/><circle cx="270.3" cy="311.2" r="2.75"/><circle cx="274.1" cy="310.9" r="2.75"/><circle cx="277.6" cy="312.0" r="2.75"/><circle cx="280.8" cy="313.8" r="2.75"/><circle cx="283.7" cy="314.3" r="2.75"/><circle cx="286.4" cy="315.7" r="2.75"/><circle cx="288.9" cy="316.4" r="2.75"/><circle cx="291.2" cy="316.5" r="2.75"/><circle cx="293.4" cy="318.4" r="2.75"/><circle cx="295.5" cy="319.2" r="2.75"/><circle cx="297.4" cy="320.0" r="2.75"/><circle cx="299.3" cy="321.0" r="2.75"/><circle cx="301.1" cy="321.3" r="2.75"/><circle cx="302.8" cy="321.0" r="2.75"/><circle cx="304.4" cy="321.7" r="2.75"/><circle cx="305.9" cy="322.5" r="2.75"/><circle cx="307.4" cy="322.8" r="2.75"/><circle cx="308.8" cy="322.5" r="2.75"/><circle cx="310.2" cy="323.3" r="2.75"/><circle cx="311.5" cy="323.5" r="2.75"/><circle cx="312.8" cy="323.6" r="2.75"/><circle cx="314.0" cy="323.6" r="2.75"/><circle cx="315.2" cy="323.7" r="2.75"/><circle cx="316.4" cy="324.3" r="2.75"/><circle cx="317.5" cy="324.9" r="2.75"/><circle cx="318.6" cy="325.2" r="2.75"/><circle cx="319.6" cy="324.9" r="2.75"/><circle cx="320.6" cy="325.2" r="2.75"/><circle cx="321.6" cy="326.0" r="2.75"/><circle cx="322.6" cy="325.9" r="2.75"/><circle cx="323.5" cy="326.1" r="2.75"/><circle cx="324.5" cy="326.4" r="2.75"/><circle cx="325.4" cy="326.7" r="2.75"/><circle cx="326.2" cy="327.2" r="2.75"/><circle cx="327.1" cy="327.1" r="2.75"/><circle cx="327.9" cy="327.6" r="2.75"/><circle cx="328.7" cy="326.8" r="2.75"/><circle cx="329.5" cy="327.2" r="2.75"/><circle cx="330.3" cy="327.9" r="2.75"/><circle cx="331.1" cy="327.2" r="2.75"/><circle cx="331.8" cy="327.5" r="2.75"/><circle cx="332.6" cy="328.6" r="2.75"/><circle cx="333.3" cy="327.5" r="2.75"/><circle cx="334.0" cy="327.9" r="2.75"/><circle cx="334.7" cy="327.6" r="2.75"/><circle cx="335.4" cy="328.9" r="2.75"/><circle cx="336.0" cy="328.4" r="2.75"/><circle cx="336.7" cy="328.6" r="2.75"/><circle cx="337.3" cy="328.7" r="2.75"/><circle cx="338.0" cy="328.9" r="2.75"/><circle cx="338.6" cy="328.7" r="2.75"/><circle cx="339.2" cy="329.7" r="2.75"/><circle cx="339.8" cy="329.7" r="2.75"/><circle cx="340.4" cy="329.8" r="2.75"/><circle cx="341.0" cy="329.6" r="2.75"/><circle cx="341.5" cy="329.7" r="2.75"/><circle cx="342.1" cy="329.4" r="2.75"/><circle cx="342.6" cy="329.5" r="2.75"/><circle cx="343.2" cy="329.7" r="2.75"/><circle cx="343.7" cy="330.0" r="2.75"/><circle cx="344.3" cy="329.9" r="2.75"/><circle cx="344.8" cy="329.5" r="2.75"/><circle cx="345.3" cy="329.7" r="2.75"/><circle cx="345.8" cy="329.9" r="2.75"/><circle cx="346.3" cy="330.1" r="2.75"/><circle cx="346.8" cy="329.6" r="2.75"/><circle cx="347.3" cy="330.3" r="2.75"/><circle cx="347.8" cy="330.0" r="2.75"/><circle cx="348.2" cy="329.9" r="2.75"/><circle cx="348.7" cy="330.4" r="2.75"/><circle cx="349.2" cy="330.1" r="2.75"/><circle cx="349.6" cy="330.8" r="2.75"/><circle cx="350.1" cy="330.1" r="2.75"/><circle cx="350.5" cy="330.4" r="2.75"/><circle cx="351.0" cy="331.1" r="2.75"/><circle cx="351.4" cy="330.4" r="2.75"/><circle cx="351.8" cy="330.9" r="2.75"/><circle cx="352.3" cy="330.3" r="2.75"/><circle cx="352.7" cy="331.0" r="2.75"/><circle cx="353.1" cy="330.9" r="2.75"/><circle cx="353.5" cy="330.8" r="2.75"/><circle cx="353.9" cy="331.0" r="2.75"/><circle cx="354.3" cy="330.8" r="2.75"/><circle cx="354.7" cy="331.2" r="2.75"/><circle cx="355.1" cy="330.8" r="2.75"/><circle cx="355.5" cy="331.1" r="2.75"/><circle cx="355.9" cy="331.0" r="2.75"/><circle cx="356.3" cy="332.1" r="2.75"/><circle cx="356.6" cy="330.8" r="2.75"/><circle cx="357.0" cy="331.2" r="2.75"/><circle cx="357.4" cy="331.9" r="2.75"/><circle cx="357.7" cy="331.3" r="2.75"/><circle cx="358.1" cy="331.2" r="2.75"/><circle cx="358.5" cy="331.0" r="2.75"/><circle cx="358.8" cy="331.8" r="2.75"/><circle cx="359.2" cy="331.0" r="2.75"/><circle cx="359.5" cy="331.6" r="2.75"/><circle cx="359.8" cy="330.8" r="2.75"/><circle cx="360.2" cy="331.6" r="2.75"/><circle cx="360.5" cy="331.4" r="2.75"/><circle cx="360.9" cy="331.8" r="2.75"/><circle cx="361.2" cy="332.1" r="2.75"/><circle cx="361.5" cy="331.4" r="2.75"/><circle cx="361.8" cy="331.5" r="2.75"/><circle cx="362.2" cy="331.3" r="2.75"/><circle cx="362.5" cy="331.6" r="2.75"/><circle cx="362.8" cy="332.1" r="2.75"/><circle cx="363.1" cy="332.5" r="2.75"/><circle cx="363.4" cy="332.2" r="2.75"/><circle cx="363.7" cy="332.2" r="2.75"/><circle cx="364.0" cy="332.3" r="2.75"/><circle cx="364.4" cy="331.9" r="2.75"/><circle cx="364.7" cy="332.0" r="2.75"/><circle cx="365.0" cy="332.2" r="2.75"/><circle cx="365.2" cy="332.1" r="2.75"/><circle cx="365.5" cy="332.2" r="2.75"/><circle cx="365.8" cy="332.1" r="2.75"/><circle cx="366.1" cy="332.0" r="2.75"/><circle cx="366.4" cy="331.9" r="2.75"/><circle cx="366.7" cy="332.5" r="2.75"/><circle cx="367.0" cy="332.8" r="2.75"/><circle cx="367.3" cy="331.9" r="2.75"/><circle cx="367.5" cy="332.3" r="2.75"/><circle cx="367.8" cy="332.0" r="2.75"/><circle cx="368.1" cy="333.0" r="2.75"/><circle cx="368.4" cy="332.6" r="2.75"/><circle cx="368.6" cy="332.5" r="2.75"/><circle cx="368.9" cy="333.0" r="2.75"/><circle cx="369.2" cy="332.7" r="2.75"/><circle cx="369.4" cy="332.3" r="2.75"/><circle cx="369.7" cy="332.2" r="2.75"/><circle cx="370.0" cy="332.1" r="2.75"/><circle cx="370.2" cy="332.9" r="2.75"/><circle cx="370.5" cy="333.1" r="2.75"/><circle cx="370.7" cy="332.5" r="2.75"/><circle cx="371.0" cy="332.4" r="2.75"/><circle cx="371.2" cy="332.7" r="2.75"/><circle cx="371.5" cy="333.2" r="2.75"/><circle cx="371.7" cy="332.5" r="2.75"/><circle cx="372.0" cy="332.5" r="2.75"/><circle cx="372.2" cy="332.6" r="2.75"/><circle cx="372.5" cy="333.0" r="2.75"/><circle cx="372.7" cy="332.8" r="2.75"/><circle cx="372.9" cy="332.6" r="2.75"/><circle cx="373.2" cy="333.1" r="2.75"/><circle cx="373.4" cy="333.5" r="2.75"/><circle cx="373.6" cy="332.8" r="2.75"/><circle cx="373.9" cy="332.8" r="2.75"/><circle cx="374.1" cy="333.0" r="2.75"/><circle cx="374.3" cy="332.7" r="2.75"/><circle cx="374.6" cy="333.2" r="2.75"/><circle cx="374.8" cy="333.1" r="2.75"/><circle cx="375.0" cy="333.2" r="2.75"/><circle cx="375.2" cy="332.9" r="2.75"/><circle cx="375.5" cy="332.6" r="2.75"/><circle cx="375.7" cy="333.2" r="2.75"/><circle cx="375.9" cy="332.5" r="2.75"/><circle cx="376.1" cy="332.7" r="2.75"/><circle cx="376.4" cy="332.9" r="2.75"/><circle cx="376.6" cy="333.0" r="2.75"/><circle cx="376.8" cy="332.7" r="2.75"/><circle cx="377.0" cy="333.3" r="2.75"/><circle cx="377.2" cy="333.3" r="2.75"/><circle cx="377.4" cy="333.7" r="2.75"/><circle cx="377.6" cy="333.2" r="2.75"/><circle cx="377.8" cy="332.9" r="2.75"/><circle cx="378.1" cy="333.2" r="2.75"/><circle cx="378.3" cy="333.2" r="2.75"/><circle cx="378.5" cy="333.5" r="2.75"/><circle cx="378.7" cy="333.4" r="2.75"/><circle cx="378.9" cy="333.9" r="2.75"/><circle cx="379.1" cy="333.1" r="2.75"/><circle cx="379.3" cy="333.6" r="2.75"/><circle cx="379.5" cy="333.9" r="2.75"/><circle cx="379.7" cy="333.8" r="2.75"/><circle cx="379.9" cy="333.8" r="2.75"/><circle cx="380.1" cy="333.3" r="2.75"/><circle cx="380.3" cy="333.2" r="2.75"/><circle cx="380.5" cy="334.0" r="2.75"/><circle cx="380.7" cy="333.3" r="2.75"/><circle cx="380.8" cy="333.3" r="2.75"/><circle cx="381.0" cy="333.8" r="2.75"/><circle cx="381.2" cy="334.2" r="2.75"/><circle cx="381.4" cy="333.9" r="2.75"/><circle cx="381.6" cy="333.9" r="2.75"/><circle cx="381.8" cy="333.6" r="2.75"/><circle cx="382.0" cy="333.9" r="2.75"/><circle cx="382.2" cy="334.4" r="2.75"/><circle cx="382.4" cy="333.7" r="2.75"/><circle cx="382.5" cy="334.3" r="2.75"/><circle cx="382.7" cy="333.5" r="2.75"/><circle cx="382.9" cy="334.2" r="2.75"/></g>
<g fill="#00f"><path d="M212.7 257.6h6.0L215.7 262.7z"/><path d="M227.4 280.2h6.0L230.4 285.3z"/><path d="M237.9 293.1h6.0L240.9 298.2z"/><path d="M246.0 298.9h6.0L249.0 304.0z"/><path d="M252.6 303.6h6.0L255.6 308.7z"/><path d="M258.2 307.5h6.0L261.2 312.6z"/><path d="M263.0 310.5h6.0L266.0 315.6z"/><path d="M267.3 312.8h6.0L270.3 317.9z"/><path d="M271.1 314.9h6.0L274.1 320.0z"/><path d="M274.6 316.3h6.0L277.6 321.4z"/><path d="M277.8 317.3h6.0L280.8 322.4z"/><path d="M280.7 317.8h6.0L283.7 322.9z"/><path d="M283.4 318.6h6.0L286.4 323.7z"/><path d="M285.9 319.2h6.0L288.9 324.3z"/><path d="M288.2 319.7h6.0L291.2 324.8z"/><path d="M290.4 320.4h6.0L293.4 325.5z"/><path d="M292.5 320.5h6.0L295.5 325.6z"/><path d="M294.4 320.9h6.0L297.4 326.0z"/><path d="M296.3 321.5h6.0L299.3 326.6z"/><path d="M298.1 321.9h6.0L301.1 327.0z"/><path d="M299.8 322.4h6.0L302.8 327.5z"/><path d="M301.4 322.3h6.0L304.4 327.4z"/><path d="M302.9 322.5h6.0L305.9 327.6z"/><path d="M304.4 322.8h6.0L307.4 327.9z"/><path d="M305.8 323.0h6.0L308.8 328.1z"/><path d="M307.2 323.2h6.0L310.2 328.3z"/><path d="M308.5 323.4h6.0L311.5 328.5z"/><path d="M309.8 323.8h6.0L312.8 328.9z"/><path d="M311.0 323.9h6.0L314.0 329.0z"/><path d="M312.2 324.1h6.0L315.2 329.2z"/><path d="M313.4 324.5h6.0L316.4 329.6z"/><path d="M314.5 324.6h6.0L317.5 329.7z"/><path d="M315.6 324.9h6.0L318.6 330.0z"/><path d="M316.6 324.9h6.0L319.6 330.0z"/><path d="M317.6 325.0h6.0L320.6 330.1z"/><path d="M318.6 325.3h6.0L321.6 330.4z"/><path d="M319.6 325.6h6.0L322.6 330.7z"/><path d="M320.5 325.3h6.0L323.5 330.4z"/><path d="M321.5 325.6h6.0L324.5 330.7z"/><path d="M322.4 325.6h6.0L325.4 330.7z"/><path d="M323.2 326.0h6.0L326.2 331.1z"/><path d="M324.1 325.9h6.0L327.1 331.0z"/><path d="M324.9 325.9h6.0L327.9 331.0z"/><path d="M325.7 326.0h6.0L328.7 331.1z"/><path d="M326.5 326.4h6.0L329.5 331.5z"/><path d="M327.3 326.4h6.0L330.3 331.5z"/><path d="M328.1 326.6h6.0L331.1 331.7z"/><path d="M328.8 326.6h6.0L331.8 331.7z"/><path d="M329.6 326.7h6.0L332.6 331.8z"/><path d="M330.3 326.9h6.0L333.3 332.0z"/><path d="M331.0 327.1h6.0L334.0 332.2z"/><path d="M331.7 327.0h6.0L334.7 332.1z"/><path d="M332.4 327.2h6.0L335.4 332.3z"/><path d="M333.0 327.2h6.0L336.0 332.3z"/><path d="M333.7 327.3h6.0L336.7 332.4z"/><path d="M334.3 327.3h6.0L337.3 332.4z"/><path d="M335.0 327.4h6.0L338.0 332.5z"/><path d="M335.6 327.7h6.0L338.6 332.8z"/><path d="M336.2 327.7h6.0L339.2 332.8z"/><path d="M336.8 327.6h6.0L339.8 332.7z"/><path d="M337.4 327.9h6.0L340.4 333.0z"/><path d="M338.0 327.9h6.0L341.0 333.0z"/><path d="M338.5 327.9h6.0L341.5 333.0z"/><path d="M339.1 327.9h6.0L342.1 333.0z"/><path d="M339.6 328.0h6.0L342.6 333.1z"/><path d="M340.2 328.3h6.0L343.2 333.4z"/><path d="M340.7 328.3h6.0L343.7 333.4z"/><path d="M341.3 328.2h6.0L344.3 333.3z"/><path d="M341.8 328.2h6.0L344.8 333.3z"/><path d="M342.3 328.0h6.0L345.3 333.1z"/><path d="M342.8 328.4h6.0L345.8 333.5z"/><path d="M343.3 328.3h6.0L346.3 333.4z"/><path d="M343.8 328.4h6.0L346.8 333.5z"/><path d="M344.3 328.7h6.0L347.3 333.8z"/><path d="M344.8 328.6h6.0L347.8 333.7z"/><path d="M345.2 328.5h6.0L348.2 333.6z"/><path d="M345.7 328.7h6.0L348.7 333.8z"/><path d="M346.2 328.7h6.0L349.2 333.8z"/><path d="M346.6 328.6h6.0L349.6 333.7z"/><path d="M347.1 328.8h6.0L350.1 333.9z"/><path d="M347.5 328.7h6.0L350.5 333.8z"/><path d="M348.0 328.9h6.0L351.0 334.0z"/><path d="M348.4 328.9h6.0L351.4 334.0z"/><path d="M348.8 328.8h6.0L351.8 333.9z"/><path d="M349.3 329.0h6.0L352.3 334.1z"/><path d="M349.7 328.9h6.0L352.7 334.0z"/><path d="M350.1 328.8h6.0L353.1 333.9z"/><path d="M350.5 329.0h6.0L353.5 334.1z"/><path d="M350.9 329.1h6.0L353.9 334.2z"/><path d="M351.3 329.0h6.0L354.3 334.1z"/><path d="M351.7 329.2h6.0L354.7 334.3z"/><path d="M352.1 329.0h6.0L355.1 334.1z"/><path d="M352.5 329.3h6.0L355.5 334.4z"/><path d="M352.9 329.2h6.0L355.9 334.3z"/><path d="M353.3 329.3h6.0L356.3 334.4z"/><path d="M353.6 329.4h6.0L356.6 334.5z"/><path d="M354.0 329.1h6.0L357.0 334.2z"/><path d="M354.4 329.5h6.0L357.4 334.6z"/><path d="M354.7 329.2h6.0L357.7 334.3z"/><path d="M355.1 329.4h6.0L358.1 334.5z"/><path d="M355.5 329.3h6.0L358.5 334.4z"/><path d="M355.8 329.6h6.0L358.8 334.7z"/><path d="M356.2 329.4h6.0L359.2 334.5z"/><path d="M356.5 329.4h6.0L359.5 334.5z"/><path d="M356.8 329.6h6.0L359.8 334.7z"/><path d="M357.2 329.6h6.0L360.2 334.7z"/><path d="M357.5 329.4h6.0L360.5 334.5z"/><path d="M357.9 329.6h6.0L360.9 334.7z"/><path d="M358.2 329.7h6.0L361.2 334.8z"/><path d="M358.5 329.8h6.0L361.5 334.9z"/><path d="M358.8 329.7h6.0L361.8 334.8z"/><path d="M359.2 329.7h6.0L362.2 334.8z"/><path d="M359.5 329.8h6.0L362.5 334.9z"/><path d="M359.8 329.6h6.0L362.8 334.7z"/><path d="M360.1 329.9h6.0L363.1 335.0z"/><path d="M360.4 329.8h6.0L363.4 334.9z"/><path d="M360.7 329.8h6.0L363.7 334.9z"/><path d="M361.0 330.1h6.0L364.0 335.2z"/><path d="M361.4 329.9h6.0L364.4 335.0z"/><path d="M361.7 329.8h6.0L364.7 334.9z"/><path d="M362.0 330.2h6.0L365.0 335.3z"/><path d="M362.2 330.2h6.0L365.2 335.3z"/><path d="M362.5 330.2h6.0L365.5 335.3z"/><path d="M362.8 330.3h6.0L365.8 335.4z"/><path d="M363.1 330.1h6.0L366.1 335.2z"/><path d="M363.4 330.4h6.0L366.4 335.5z"/><path d="M363.7 330.1h6.0L366.7 335.2z"/><path d="M364.0 330.0h6.0L367.0 335.1z"/><path d="M364.3 330.4h6.0L367.3 335.5z"/><path d="M364.5 330.3h6.0L367.5 335.4z"/><path d="M364.8 330.5h6.0L367.8 335.6z"/><path d="M365.1 330.2h6.0L368.1 335.3z"/><path d="M365.4 330.4h6.0L368.4 335.5z"/><path d="M365.6 330.4h6.0L368.6 335.5z"/><path d="M365.9 330.4h6.0L368.9 335.5z"/><path d="M366.2 330.3h6.0L369.2 335.4z"/><path d="M366.4 330.5h6.0L369.4 335.6z"/><path d="M366.7 330.4h6.0L369.7 335.5z"/><path d="M367.0 330.5h6.0L370.0 335.6z"/><path d="M367.2 330.5h6.0L370.2 335.6z"/><path d="M367.5 330.6h6.0L370.5 335.7z"/><path d="M367.7 330.5h6.0L370.7 335.6z"/><path d="M368.0 330.8h6.0L371.0 335.9z"/><path d="M368.2 330.6h6.0L371.2 335.7z"/><path d="M368.5 330.4h6.0L371.5 335.5z"/><path d="M368.7 330.6h6.0L371.7 335.7z"/><path d="M369.0 330.8h6.0L372.0 335.9z"/><path d="M369.2 330.6h6.0L372.2 335.7z"/><path d="M369.5 330.8h6.0L372.5 335.9z"/><path d="M369.7 330.9h6.0L372.7 336.0z"/><path d="M369.9 330.8h6.0L372.9 335.9z"/><path d="M370.2 330.7h6.0L373.2 335.8z"/><path d="M370.4 330.7h6.0L373.4 335.8z"/><path d="M370.6 330.8h6.0L373.6 335.9z"/><path d="M370.9 330.9h6.0L373.9 336.0z"/><path d="M371.1 330.9h6.0L374.1 336.0z"/><path d="M371.3 330.7h6.0L374.3 335.8z"/><path d="M371.6 330.8h6.0L374.6 335.9z"/><path d="M371.8 331.0h6.0L374.8 336.1z"/><path d="M372.0 331.1h6.0L375.0 336.2z"/><path d="M372.2 331.1h6.0L375.2 336.2z"/><path d="M372.5 330.7h6.0L375.5 335.8z"/><path d="M372.7 331.1h6.0L375.7 336.2z"/><path d="M372.9 331.0h6.0L375.9 336.1z"/><path d="M373.1 331.0h6.0L376.1 336.1z"/><path d="M373.4 331.0h6.0L376.4 336.1z"/><path d="M373.6 331.1h6.0L376.6 336.2z"/><path d="M373.8 331.2h6.0L376.8 336.3z"/><path d="M374.0 331.2h6.0L377.0 336.3z"/><path d="M374.2 330.9h6.0L377.2 336.0z"/><path d="M374.4 331.2h6.0L377.4 336.3z"/><path d="M374.6 331.0h6.0L377.6 336.1z"/><path d="M374.8 331.3h6.0L377.8 336.4z"/><path d="M375.1 331.2h6.0L378.1 336.3z"/><path d="M375.3 331.2h6.0L378.3 336.3z"/><path d="M375.5 331.1h6.0L378.5 336.2z"/><path d="M375.7 331.3h6.0L378.7 336.4z"/><path d="M375.9 331.2h6.0L378.9 336.3z"/><path d="M376.1 331.2h6.0L379.1 336.3z"/><path d="M376.3 331.4h6.0L379.3 336.5z"/><path d="M376.5 331.2h6.0L379.5 336.3z"/><path d="M376.7 331.4h6.0L379.7 336.5z"/><path d="M376.9 331.4h6.0L379.9 336.5z"/><path d="M377.1 331.3h6.0L380.1 336.4z"/><path d="M377.3 331.7h6.0L380.3 336.8z"/><path d="M377.5 331.4h6.0L380.5 336.5z"/><path d="M377.7 331.5h6.0L380.7 336.6z"/><path d="M377.8 331.6h6.0L380.8 336.7z"/><path d="M378.0 331.5h6.0L381.0 336.6z"/><path d="M378.2 331.4h6.0L381.2 336.5z"/><path d="M378.4 331.5h6.0L381.4 336.6z"/><path d="M378.6 331.3h6.0L381.6 336.4z"/><path d="M378.8 331.6h6.0L381.8 336.7z"/><path d="M379.0 331.7h6.0L382.0 336.8z"/><path d="M379.2 331.4h6.0L382.2 336.5z"/><path d="M379.4 331.5h6.0L382.4 336.6z"/><path d="M379.5 331.5h6.0L382.5 336.6z"/><path d="M379.7 331.7h6.0L382.7 336.8z"/><path d="M379.9 331.5h6.0L382.9 336.6z"/></g>
<rect x="172.3" y="194.0" width="235.6" height="148.8" fill="none" stroke="#2a2a2a" stroke-width="1.05"/>
<path d="M172.3 342.3h3.4M172.3 309.3h3.4M172.3 276.3h3.4M172.3 243.3h3.4M172.3 210.3h3.4M172.3 325.8h1.9M172.3 292.8h1.9M172.3 259.8h1.9M172.3 226.8h1.9M182.4 342.8v-1.9M190.5 342.8v-1.9M197.2 342.8v-1.9M202.8 342.8v-1.9M207.6 342.8v-1.9M211.9 342.8v-1.9M215.7 342.8v-3.3M240.9 342.8v-1.9M255.6 342.8v-1.9M266.0 342.8v-1.9M274.1 342.8v-1.9M280.8 342.8v-1.9M286.4 342.8v-1.9M291.2 342.8v-1.9M295.5 342.8v-1.9M299.3 342.8v-3.3M324.5 342.8v-1.9M339.2 342.8v-1.9M349.6 342.8v-1.9M357.7 342.8v-1.9M364.4 342.8v-1.9M370.0 342.8v-1.9M374.8 342.8v-1.9M379.1 342.8v-1.9M382.9 342.8v-3.3" stroke="#2a2a2a" stroke-width="1" fill="none"/>
<text transform="translate(168.7,345.8) scale(1,1)" text-anchor="end" font-size="13.3">0</text>
<text transform="translate(168.7,312.8) scale(1,1)" text-anchor="end" font-size="13.3">30</text>
<text transform="translate(168.7,279.8) scale(1,1)" text-anchor="end" font-size="13.3">60</text>
<text transform="translate(168.7,246.8) scale(1,1)" text-anchor="end" font-size="13.3">90</text>
<text transform="translate(168.7,213.8) scale(1,1)" text-anchor="end" font-size="13.3">120</text>
<text transform="translate(215.9,358.4) scale(0.96,1)" text-anchor="middle" font-size="13.3">10<tspan dx="0.4" dy="-6.9" font-size="7.2">4</tspan></text>
<text transform="translate(299.5,358.4) scale(0.96,1)" text-anchor="middle" font-size="13.3">10<tspan dx="0.4" dy="-6.9" font-size="7.2">5</tspan></text>
<text transform="translate(383.1,358.4) scale(0.96,1)" text-anchor="middle" font-size="13.3">10<tspan dx="0.4" dy="-6.9" font-size="7.2">6</tspan></text>
<text x="142.7" y="25.9" font-size="14">(a)</text>
<text x="167.5" y="25.9" font-size="14"><tspan font-style="italic">T</tspan> = 298 K</text>
<rect x="167.30" y="36.20" width="6.4" height="6.4" fill="#000"/>
<circle cx="170.5" cy="54.0" r="3.85" fill="#f00"/>
<path d="M165.70 66.11h9.6l-4.80 8.3z" fill="#00f"/>
<text x="182.0" y="41.4" font-size="12">Pure CS</text>
<text x="182.0" y="56.3" font-size="12">5 wt % SrO/CS</text>
<text x="182.0" y="71.6" font-size="12">5 wt% CoO/CS</text>
<text x="398.8" y="25.6" font-size="14">(b)</text>
<text x="426.9" y="25.6" font-size="14"><tspan font-style="italic">T</tspan> = 348 K</text>
<rect x="426.55" y="34.15" width="7.9" height="7.9" fill="#000"/>
<circle cx="430.5" cy="52.8" r="4.60" fill="#f00"/>
<path d="M425.00 64.69h11.0l-5.50 9.3z" fill="#00f"/>
<text x="442.0" y="40.6" font-size="12">Pure CS</text>
<text x="442.0" y="55.5" font-size="12">5 wt % SrO/CS</text>
<text x="442.0" y="70.7" font-size="12">5 wt% CoO/CS</text>
<text x="267.2" y="212.9" font-size="14">(c)</text>
<text x="296.2" y="212.9" font-size="14"><tspan font-style="italic">T</tspan> = 393 K</text>
<rect x="297.45" y="223.15" width="7.9" height="7.9" fill="#000"/>
<circle cx="301.4" cy="241.8" r="4.60" fill="#f00"/>
<path d="M295.90 253.99h11.0l-5.50 9.3z" fill="#00f"/>
<text x="313.0" y="229.7" font-size="12">Pure CS</text>
<text x="313.0" y="244.8" font-size="12">5 wt % SrO/CS</text>
<text x="313.0" y="259.8" font-size="12">5 wt% CoO/CS</text>
<text y="186.9" font-size="15.6"><tspan x="123.4" font-size="17" font-style="italic" textLength="8.6" lengthAdjust="spacingAndGlyphs">ν</tspan> <tspan x="133.0" textLength="28.6" lengthAdjust="spacingAndGlyphs">(Hz)</tspan></text>
<text transform="translate(18.6,80.2) rotate(-90)" font-size="17.5" font-style="italic">ε<tspan dx="-1.2" dy="0" font-style="normal" font-size="19">"</tspan></text>
<text y="189.5" font-size="15.6"><tspan x="428.3" font-size="17" font-style="italic" textLength="8.6" lengthAdjust="spacingAndGlyphs">ν</tspan> <tspan x="437.9" textLength="28.6" lengthAdjust="spacingAndGlyphs">(Hz)</tspan></text>
<text transform="translate(287.7,74.6) rotate(-90)" font-size="17.5" font-style="italic">ε<tspan dx="-1.2" dy="0" font-style="normal" font-size="19">"</tspan></text>
<text y="379.7" font-size="15.6"><tspan x="271.9" font-size="17" font-style="italic" textLength="8.6" lengthAdjust="spacingAndGlyphs">ν</tspan> <tspan x="281.3" textLength="28.6" lengthAdjust="spacingAndGlyphs">(Hz)</tspan></text>
<text transform="translate(143.7,267.2) rotate(-90)" font-size="17.5" font-style="italic">ε<tspan dx="-1.2" dy="0" font-style="normal" font-size="19">"</tspan></text>
</svg>
</body></html>
